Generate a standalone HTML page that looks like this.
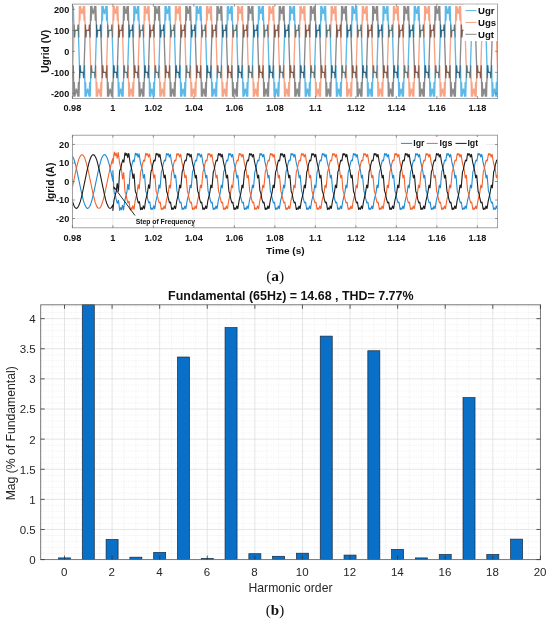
<!DOCTYPE html><html><head><meta charset="utf-8"><style>html,body{margin:0;padding:0;background:#fff;width:550px;height:622px;overflow:hidden}svg{display:block}</style></head><body><svg width="550" height="622" viewBox="0 0 550 622">
<rect width="550" height="622" fill="#fff"/>
<defs><clipPath id="c1"><rect x="72.4" y="4.1" width="425.2" height="94.5"/></clipPath>
<clipPath id="c2"><rect x="72.4" y="135.2" width="425.2" height="92.6"/></clipPath></defs>
<g clip-path="url(#c1)" fill="none" stroke-width="1.35" stroke-linejoin="miter">
<path d="M62.53 78.2L62.42 65.2L62.31 72.3L61.88 72.3L61.77 78.2L61.66 65.2L62.96 24.5L63.46 37.5L63.96 30.3L66.69 30.3L67.19 24.5L67.69 37.5L68.19 6.0L68.69 20.7L69.19 6.0L70.75 14.0L72.31 6.0L72.81 20.7L73.31 6.0L73.81 24.5L74.31 37.5L74.81 30.3L77.53 30.3L78.03 24.5L78.53 37.5L79.83 78.2L80.33 65.2L80.83 72.3L83.56 72.3L84.06 78.2L84.56 65.2L85.06 96.7L85.56 82.0L86.06 96.7L87.62 88.7L89.18 96.7L89.68 82.0L90.18 96.7L90.68 78.2L91.18 65.2L91.68 72.3L94.41 72.3L94.91 78.2L95.41 65.2L96.71 24.5L97.21 37.5L97.71 30.3L100.43 30.3L100.93 24.5L101.43 37.5L101.93 6.0L102.43 20.7L102.93 6.0L104.49 14.0L106.06 6.0L106.56 20.7L107.06 6.0L107.56 24.5L108.06 37.5L108.56 30.3L111.28 30.3L111.78 24.5L112.28 37.5L113.58 78.2L114.08 65.2L114.58 72.3L116.87 72.3L117.37 78.2L117.87 65.2L118.37 96.7L118.87 82.0L119.37 96.7L120.72 88.7L122.06 96.7L122.56 82.0L123.06 96.7L123.56 78.2L124.06 65.2L124.56 72.3L126.85 72.3L127.35 78.2L127.85 65.2L129.15 24.5L129.65 37.5L130.15 30.3L132.44 30.3L132.94 24.5L133.44 37.5L133.94 6.0L134.44 20.7L134.94 6.0L136.29 14.0L137.64 6.0L138.14 20.7L138.64 6.0L139.14 24.5L139.64 37.5L140.14 30.3L142.43 30.3L142.93 24.5L143.43 37.5L144.73 78.2L145.23 65.2L145.73 72.3L148.02 72.3L148.52 78.2L149.02 65.2L149.52 96.7L150.02 82.0L150.52 96.7L151.87 88.7L153.21 96.7L153.71 82.0L154.21 96.7L154.71 78.2L155.21 65.2L155.71 72.3L158.00 72.3L158.50 78.2L159.00 65.2L160.30 24.5L160.80 37.5L161.30 30.3L163.59 30.3L164.09 24.5L164.59 37.5L165.09 6.0L165.59 20.7L166.09 6.0L167.44 14.0L168.79 6.0L169.29 20.7L169.79 6.0L170.29 24.5L170.79 37.5L171.29 30.3L173.58 30.3L174.08 24.5L174.58 37.5L175.88 78.2L176.38 65.2L176.88 72.3L179.17 72.3L179.67 78.2L180.17 65.2L180.67 96.7L181.17 82.0L181.67 96.7L183.02 88.7L184.36 96.7L184.86 82.0L185.36 96.7L185.86 78.2L186.36 65.2L186.86 72.3L189.15 72.3L189.65 78.2L190.15 65.2L191.45 24.5L191.95 37.5L192.45 30.3L194.75 30.3L195.25 24.5L195.75 37.5L196.25 6.0L196.75 20.7L197.25 6.0L198.59 14.0L199.94 6.0L200.44 20.7L200.94 6.0L201.44 24.5L201.94 37.5L202.44 30.3L204.73 30.3L205.23 24.5L205.73 37.5L207.03 78.2L207.53 65.2L208.03 72.3L210.32 72.3L210.82 78.2L211.32 65.2L211.82 96.7L212.32 82.0L212.82 96.7L214.17 88.7L215.51 96.7L216.01 82.0L216.51 96.7L217.01 78.2L217.51 65.2L218.01 72.3L220.30 72.3L220.80 78.2L221.30 65.2L222.60 24.5L223.10 37.5L223.60 30.3L225.90 30.3L226.40 24.5L226.90 37.5L227.40 6.0L227.90 20.7L228.40 6.0L229.74 14.0L231.09 6.0L231.59 20.7L232.09 6.0L232.59 24.5L233.09 37.5L233.59 30.3L235.88 30.3L236.38 24.5L236.88 37.5L238.18 78.2L238.68 65.2L239.18 72.3L241.47 72.3L241.97 78.2L242.47 65.2L242.97 96.7L243.47 82.0L243.97 96.7L245.32 88.7L246.66 96.7L247.16 82.0L247.66 96.7L248.16 78.2L248.66 65.2L249.16 72.3L251.45 72.3L251.95 78.2L252.45 65.2L253.75 24.5L254.25 37.5L254.75 30.3L257.05 30.3L257.55 24.5L258.05 37.5L258.55 6.0L259.05 20.7L259.55 6.0L260.89 14.0L262.24 6.0L262.74 20.7L263.24 6.0L263.74 24.5L264.24 37.5L264.74 30.3L267.03 30.3L267.53 24.5L268.03 37.5L269.33 78.2L269.83 65.2L270.33 72.3L272.62 72.3L273.12 78.2L273.62 65.2L274.12 96.7L274.62 82.0L275.12 96.7L276.47 88.7L277.81 96.7L278.31 82.0L278.81 96.7L279.31 78.2L279.81 65.2L280.31 72.3L282.60 72.3L283.10 78.2L283.60 65.2L284.90 24.5L285.40 37.5L285.90 30.3L288.20 30.3L288.70 24.5L289.20 37.5L289.70 6.0L290.20 20.7L290.70 6.0L292.04 14.0L293.39 6.0L293.89 20.7L294.39 6.0L294.89 24.5L295.39 37.5L295.89 30.3L298.18 30.3L298.68 24.5L299.18 37.5L300.48 78.2L300.98 65.2L301.48 72.3L303.77 72.3L304.27 78.2L304.77 65.2L305.27 96.7L305.77 82.0L306.27 96.7L307.62 88.7L308.96 96.7L309.46 82.0L309.96 96.7L310.46 78.2L310.96 65.2L311.46 72.3L313.75 72.3L314.25 78.2L314.75 65.2L316.05 24.5L316.55 37.5L317.05 30.3L319.35 30.3L319.85 24.5L320.35 37.5L320.85 6.0L321.35 20.7L321.85 6.0L323.19 14.0L324.54 6.0L325.04 20.7L325.54 6.0L326.04 24.5L326.54 37.5L327.04 30.3L329.33 30.3L329.83 24.5L330.33 37.5L331.63 78.2L332.13 65.2L332.63 72.3L334.92 72.3L335.42 78.2L335.92 65.2L336.42 96.7L336.92 82.0L337.42 96.7L338.77 88.7L340.11 96.7L340.61 82.0L341.11 96.7L341.61 78.2L342.11 65.2L342.61 72.3L344.90 72.3L345.40 78.2L345.90 65.2L347.20 24.5L347.70 37.5L348.20 30.3L350.50 30.3L351.00 24.5L351.50 37.5L352.00 6.0L352.50 20.7L353.00 6.0L354.34 14.0L355.69 6.0L356.19 20.7L356.69 6.0L357.19 24.5L357.69 37.5L358.19 30.3L360.48 30.3L360.98 24.5L361.48 37.5L362.78 78.2L363.28 65.2L363.78 72.3L366.07 72.3L366.57 78.2L367.07 65.2L367.57 96.7L368.07 82.0L368.57 96.7L369.92 88.7L371.26 96.7L371.76 82.0L372.26 96.7L372.76 78.2L373.26 65.2L373.76 72.3L376.05 72.3L376.55 78.2L377.05 65.2L378.35 24.5L378.85 37.5L379.35 30.3L381.65 30.3L382.15 24.5L382.65 37.5L383.15 6.0L383.65 20.7L384.15 6.0L385.49 14.0L386.84 6.0L387.34 20.7L387.84 6.0L388.34 24.5L388.84 37.5L389.34 30.3L391.63 30.3L392.13 24.5L392.63 37.5L393.93 78.2L394.43 65.2L394.93 72.3L397.22 72.3L397.72 78.2L398.22 65.2L398.72 96.7L399.22 82.0L399.72 96.7L401.07 88.7L402.41 96.7L402.91 82.0L403.41 96.7L403.91 78.2L404.41 65.2L404.91 72.3L407.20 72.3L407.70 78.2L408.20 65.2L409.50 24.5L410.00 37.5L410.50 30.3L412.80 30.3L413.30 24.5L413.80 37.5L414.30 6.0L414.80 20.7L415.30 6.0L416.64 14.0L417.99 6.0L418.49 20.7L418.99 6.0L419.49 24.5L419.99 37.5L420.49 30.3L422.78 30.3L423.28 24.5L423.78 37.5L425.08 78.2L425.58 65.2L426.08 72.3L428.37 72.3L428.87 78.2L429.37 65.2L429.87 96.7L430.37 82.0L430.87 96.7L432.22 88.7L433.56 96.7L434.06 82.0L434.56 96.7L435.06 78.2L435.56 65.2L436.06 72.3L438.35 72.3L438.85 78.2L439.35 65.2L440.65 24.5L441.15 37.5L441.65 30.3L443.95 30.3L444.45 24.5L444.95 37.5L445.45 6.0L445.95 20.7L446.45 6.0L447.79 14.0L449.14 6.0L449.64 20.7L450.14 6.0L450.64 24.5L451.14 37.5L451.64 30.3L453.93 30.3L454.43 24.5L454.93 37.5L456.23 78.2L456.73 65.2L457.23 72.3L459.52 72.3L460.02 78.2L460.52 65.2L461.02 96.7L461.52 82.0L462.02 96.7L463.37 88.7L464.71 96.7L465.21 82.0L465.71 96.7L466.21 78.2L466.71 65.2L467.21 72.3L469.50 72.3L470.00 78.2L470.50 65.2L471.80 24.5L472.30 37.5L472.80 30.3L475.10 30.3L475.60 24.5L476.10 37.5L476.60 6.0L477.10 20.7L477.60 6.0L478.94 14.0L480.29 6.0L480.79 20.7L481.29 6.0L481.79 24.5L482.29 37.5L482.79 30.3L485.08 30.3L485.58 24.5L486.08 37.5L487.38 78.2L487.88 65.2L488.38 72.3L490.67 72.3L491.17 78.2L491.67 65.2L492.17 96.7L492.67 82.0L493.17 96.7L494.52 88.7L495.86 96.7L496.36 82.0L496.86 96.7L497.36 78.2L497.86 65.2L498.36 72.3L500.65 72.3L501.15 78.2L501.65 65.2L502.95 24.5L503.45 37.5L503.95 30.3L506.25 30.3L506.75 24.5L507.25 37.5L507.75 6.0L507.71 20.7L507.68 6.0L507.61 14.0L507.54 6.0L507.51 20.7L507.47 6.0" stroke="#5cb8e6" style="mix-blend-mode:multiply"/>
<path d="M62.93 78.2L62.82 65.2L62.71 72.3L62.28 72.3L62.17 78.2L62.06 65.2L62.56 96.7L63.06 82.0L63.56 96.7L65.12 88.7L66.69 96.7L67.19 82.0L67.69 96.7L68.19 78.2L68.69 65.2L69.19 72.3L71.91 72.3L72.41 78.2L72.91 65.2L74.21 24.5L74.71 37.5L75.21 30.3L77.93 30.3L78.43 24.5L78.93 37.5L79.43 6.0L79.93 20.7L80.43 6.0L82.00 14.0L83.56 6.0L84.06 20.7L84.56 6.0L85.06 24.5L85.56 37.5L86.06 30.3L88.78 30.3L89.28 24.5L89.78 37.5L91.08 78.2L91.58 65.2L92.08 72.3L94.81 72.3L95.31 78.2L95.81 65.2L96.31 96.7L96.81 82.0L97.31 96.7L98.87 88.7L100.43 96.7L100.93 82.0L101.43 96.7L101.93 78.2L102.43 65.2L102.93 72.3L105.66 72.3L106.16 78.2L106.66 65.2L107.96 24.5L108.46 37.5L108.96 30.3L111.68 30.3L112.18 24.5L112.68 37.5L113.18 6.0L113.68 20.7L114.18 6.0L115.52 14.0L116.87 6.0L117.37 20.7L117.87 6.0L118.37 24.5L118.87 37.5L119.37 30.3L121.66 30.3L122.16 24.5L122.66 37.5L123.96 78.2L124.46 65.2L124.96 72.3L127.25 72.3L127.75 78.2L128.25 65.2L128.75 96.7L129.25 82.0L129.75 96.7L131.10 88.7L132.44 96.7L132.94 82.0L133.44 96.7L133.94 78.2L134.44 65.2L134.94 72.3L137.24 72.3L137.74 78.2L138.24 65.2L139.54 24.5L140.04 37.5L140.54 30.3L142.83 30.3L143.33 24.5L143.83 37.5L144.33 6.0L144.83 20.7L145.33 6.0L146.67 14.0L148.02 6.0L148.52 20.7L149.02 6.0L149.52 24.5L150.02 37.5L150.52 30.3L152.81 30.3L153.31 24.5L153.81 37.5L155.11 78.2L155.61 65.2L156.11 72.3L158.40 72.3L158.90 78.2L159.40 65.2L159.90 96.7L160.40 82.0L160.90 96.7L162.25 88.7L163.59 96.7L164.09 82.0L164.59 96.7L165.09 78.2L165.59 65.2L166.09 72.3L168.39 72.3L168.89 78.2L169.39 65.2L170.69 24.5L171.19 37.5L171.69 30.3L173.98 30.3L174.48 24.5L174.98 37.5L175.48 6.0L175.98 20.7L176.48 6.0L177.82 14.0L179.17 6.0L179.67 20.7L180.17 6.0L180.67 24.5L181.17 37.5L181.67 30.3L183.96 30.3L184.46 24.5L184.96 37.5L186.26 78.2L186.76 65.2L187.26 72.3L189.55 72.3L190.05 78.2L190.55 65.2L191.05 96.7L191.55 82.0L192.05 96.7L193.40 88.7L194.75 96.7L195.25 82.0L195.75 96.7L196.25 78.2L196.75 65.2L197.25 72.3L199.54 72.3L200.04 78.2L200.54 65.2L201.84 24.5L202.34 37.5L202.84 30.3L205.13 30.3L205.63 24.5L206.13 37.5L206.63 6.0L207.13 20.7L207.63 6.0L208.97 14.0L210.32 6.0L210.82 20.7L211.32 6.0L211.82 24.5L212.32 37.5L212.82 30.3L215.11 30.3L215.61 24.5L216.11 37.5L217.41 78.2L217.91 65.2L218.41 72.3L220.70 72.3L221.20 78.2L221.70 65.2L222.20 96.7L222.70 82.0L223.20 96.7L224.55 88.7L225.90 96.7L226.40 82.0L226.90 96.7L227.40 78.2L227.90 65.2L228.40 72.3L230.69 72.3L231.19 78.2L231.69 65.2L232.99 24.5L233.49 37.5L233.99 30.3L236.28 30.3L236.78 24.5L237.28 37.5L237.78 6.0L238.28 20.7L238.78 6.0L240.12 14.0L241.47 6.0L241.97 20.7L242.47 6.0L242.97 24.5L243.47 37.5L243.97 30.3L246.26 30.3L246.76 24.5L247.26 37.5L248.56 78.2L249.06 65.2L249.56 72.3L251.85 72.3L252.35 78.2L252.85 65.2L253.35 96.7L253.85 82.0L254.35 96.7L255.70 88.7L257.05 96.7L257.55 82.0L258.05 96.7L258.55 78.2L259.05 65.2L259.55 72.3L261.84 72.3L262.34 78.2L262.84 65.2L264.14 24.5L264.64 37.5L265.14 30.3L267.43 30.3L267.93 24.5L268.43 37.5L268.93 6.0L269.43 20.7L269.93 6.0L271.27 14.0L272.62 6.0L273.12 20.7L273.62 6.0L274.12 24.5L274.62 37.5L275.12 30.3L277.41 30.3L277.91 24.5L278.41 37.5L279.71 78.2L280.21 65.2L280.71 72.3L283.00 72.3L283.50 78.2L284.00 65.2L284.50 96.7L285.00 82.0L285.50 96.7L286.85 88.7L288.20 96.7L288.70 82.0L289.20 96.7L289.70 78.2L290.20 65.2L290.70 72.3L292.99 72.3L293.49 78.2L293.99 65.2L295.29 24.5L295.79 37.5L296.29 30.3L298.58 30.3L299.08 24.5L299.58 37.5L300.08 6.0L300.58 20.7L301.08 6.0L302.42 14.0L303.77 6.0L304.27 20.7L304.77 6.0L305.27 24.5L305.77 37.5L306.27 30.3L308.56 30.3L309.06 24.5L309.56 37.5L310.86 78.2L311.36 65.2L311.86 72.3L314.15 72.3L314.65 78.2L315.15 65.2L315.65 96.7L316.15 82.0L316.65 96.7L318.00 88.7L319.35 96.7L319.85 82.0L320.35 96.7L320.85 78.2L321.35 65.2L321.85 72.3L324.14 72.3L324.64 78.2L325.14 65.2L326.44 24.5L326.94 37.5L327.44 30.3L329.73 30.3L330.23 24.5L330.73 37.5L331.23 6.0L331.73 20.7L332.23 6.0L333.57 14.0L334.92 6.0L335.42 20.7L335.92 6.0L336.42 24.5L336.92 37.5L337.42 30.3L339.71 30.3L340.21 24.5L340.71 37.5L342.01 78.2L342.51 65.2L343.01 72.3L345.30 72.3L345.80 78.2L346.30 65.2L346.80 96.7L347.30 82.0L347.80 96.7L349.15 88.7L350.50 96.7L351.00 82.0L351.50 96.7L352.00 78.2L352.50 65.2L353.00 72.3L355.29 72.3L355.79 78.2L356.29 65.2L357.59 24.5L358.09 37.5L358.59 30.3L360.88 30.3L361.38 24.5L361.88 37.5L362.38 6.0L362.88 20.7L363.38 6.0L364.73 14.0L366.07 6.0L366.57 20.7L367.07 6.0L367.57 24.5L368.07 37.5L368.57 30.3L370.86 30.3L371.36 24.5L371.86 37.5L373.16 78.2L373.66 65.2L374.16 72.3L376.45 72.3L376.95 78.2L377.45 65.2L377.95 96.7L378.45 82.0L378.95 96.7L380.30 88.7L381.65 96.7L382.15 82.0L382.65 96.7L383.15 78.2L383.65 65.2L384.15 72.3L386.44 72.3L386.94 78.2L387.44 65.2L388.74 24.5L389.24 37.5L389.74 30.3L392.03 30.3L392.53 24.5L393.03 37.5L393.53 6.0L394.03 20.7L394.53 6.0L395.88 14.0L397.22 6.0L397.72 20.7L398.22 6.0L398.72 24.5L399.22 37.5L399.72 30.3L402.01 30.3L402.51 24.5L403.01 37.5L404.31 78.2L404.81 65.2L405.31 72.3L407.60 72.3L408.10 78.2L408.60 65.2L409.10 96.7L409.60 82.0L410.10 96.7L411.45 88.7L412.80 96.7L413.30 82.0L413.80 96.7L414.30 78.2L414.80 65.2L415.30 72.3L417.59 72.3L418.09 78.2L418.59 65.2L419.89 24.5L420.39 37.5L420.89 30.3L423.18 30.3L423.68 24.5L424.18 37.5L424.68 6.0L425.18 20.7L425.68 6.0L427.03 14.0L428.37 6.0L428.87 20.7L429.37 6.0L429.87 24.5L430.37 37.5L430.87 30.3L433.16 30.3L433.66 24.5L434.16 37.5L435.46 78.2L435.96 65.2L436.46 72.3L438.75 72.3L439.25 78.2L439.75 65.2L440.25 96.7L440.75 82.0L441.25 96.7L442.60 88.7L443.95 96.7L444.45 82.0L444.95 96.7L445.45 78.2L445.95 65.2L446.45 72.3L448.74 72.3L449.24 78.2L449.74 65.2L451.04 24.5L451.54 37.5L452.04 30.3L454.33 30.3L454.83 24.5L455.33 37.5L455.83 6.0L456.33 20.7L456.83 6.0L458.18 14.0L459.52 6.0L460.02 20.7L460.52 6.0L461.02 24.5L461.52 37.5L462.02 30.3L464.31 30.3L464.81 24.5L465.31 37.5L466.61 78.2L467.11 65.2L467.61 72.3L469.90 72.3L470.40 78.2L470.90 65.2L471.40 96.7L471.90 82.0L472.40 96.7L473.75 88.7L475.10 96.7L475.60 82.0L476.10 96.7L476.60 78.2L477.10 65.2L477.60 72.3L479.89 72.3L480.39 78.2L480.89 65.2L482.19 24.5L482.69 37.5L483.19 30.3L485.48 30.3L485.98 24.5L486.48 37.5L486.98 6.0L487.48 20.7L487.98 6.0L489.33 14.0L490.67 6.0L491.17 20.7L491.67 6.0L492.17 24.5L492.67 37.5L493.17 30.3L495.46 30.3L495.96 24.5L496.46 37.5L497.76 78.2L498.26 65.2L498.76 72.3L501.05 72.3L501.55 78.2L502.05 65.2L502.55 96.7L503.05 82.0L503.55 96.7L504.90 88.7L506.25 96.7L506.75 82.0L507.25 96.7L507.75 78.2L507.66 65.2L507.58 72.3L507.24 72.3L507.16 78.2L507.07 65.2" stroke="#f7a386" style="mix-blend-mode:multiply"/>
<path d="M62.53 6.0L62.47 20.7L62.41 6.0L62.29 14.0L62.18 6.0L62.12 20.7L62.06 6.0L62.56 24.5L63.06 37.5L63.56 30.3L66.29 30.3L66.79 24.5L67.29 37.5L68.59 78.2L69.09 65.2L69.59 72.3L72.31 72.3L72.81 78.2L73.31 65.2L73.81 96.7L74.31 82.0L74.81 96.7L76.37 88.7L77.93 96.7L78.43 82.0L78.93 96.7L79.43 78.2L79.93 65.2L80.43 72.3L83.16 72.3L83.66 78.2L84.16 65.2L85.46 24.5L85.96 37.5L86.46 30.3L89.18 30.3L89.68 24.5L90.18 37.5L90.68 6.0L91.18 20.7L91.68 6.0L93.24 14.0L94.81 6.0L95.31 20.7L95.81 6.0L96.31 24.5L96.81 37.5L97.31 30.3L100.03 30.3L100.53 24.5L101.03 37.5L102.33 78.2L102.83 65.2L103.33 72.3L106.06 72.3L106.56 78.2L107.06 65.2L107.56 96.7L108.06 82.0L108.56 96.7L110.12 88.7L111.68 96.7L112.18 82.0L112.68 96.7L113.18 78.2L113.68 65.2L114.18 72.3L116.47 72.3L116.97 78.2L117.47 65.2L118.77 24.5L119.27 37.5L119.77 30.3L122.06 30.3L122.56 24.5L123.06 37.5L123.56 6.0L124.06 20.7L124.56 6.0L125.91 14.0L127.25 6.0L127.75 20.7L128.25 6.0L128.75 24.5L129.25 37.5L129.75 30.3L132.04 30.3L132.54 24.5L133.04 37.5L134.34 78.2L134.84 65.2L135.34 72.3L137.64 72.3L138.14 78.2L138.64 65.2L139.14 96.7L139.64 82.0L140.14 96.7L141.48 88.7L142.83 96.7L143.33 82.0L143.83 96.7L144.33 78.2L144.83 65.2L145.33 72.3L147.62 72.3L148.12 78.2L148.62 65.2L149.92 24.5L150.42 37.5L150.92 30.3L153.21 30.3L153.71 24.5L154.21 37.5L154.71 6.0L155.21 20.7L155.71 6.0L157.06 14.0L158.40 6.0L158.90 20.7L159.40 6.0L159.90 24.5L160.40 37.5L160.90 30.3L163.19 30.3L163.69 24.5L164.19 37.5L165.49 78.2L165.99 65.2L166.49 72.3L168.79 72.3L169.29 78.2L169.79 65.2L170.29 96.7L170.79 82.0L171.29 96.7L172.63 88.7L173.98 96.7L174.48 82.0L174.98 96.7L175.48 78.2L175.98 65.2L176.48 72.3L178.77 72.3L179.27 78.2L179.77 65.2L181.07 24.5L181.57 37.5L182.07 30.3L184.36 30.3L184.86 24.5L185.36 37.5L185.86 6.0L186.36 20.7L186.86 6.0L188.21 14.0L189.55 6.0L190.05 20.7L190.55 6.0L191.05 24.5L191.55 37.5L192.05 30.3L194.35 30.3L194.85 24.5L195.35 37.5L196.65 78.2L197.15 65.2L197.65 72.3L199.94 72.3L200.44 78.2L200.94 65.2L201.44 96.7L201.94 82.0L202.44 96.7L203.78 88.7L205.13 96.7L205.63 82.0L206.13 96.7L206.63 78.2L207.13 65.2L207.63 72.3L209.92 72.3L210.42 78.2L210.92 65.2L212.22 24.5L212.72 37.5L213.22 30.3L215.51 30.3L216.01 24.5L216.51 37.5L217.01 6.0L217.51 20.7L218.01 6.0L219.36 14.0L220.70 6.0L221.20 20.7L221.70 6.0L222.20 24.5L222.70 37.5L223.20 30.3L225.50 30.3L226.00 24.5L226.50 37.5L227.80 78.2L228.30 65.2L228.80 72.3L231.09 72.3L231.59 78.2L232.09 65.2L232.59 96.7L233.09 82.0L233.59 96.7L234.93 88.7L236.28 96.7L236.78 82.0L237.28 96.7L237.78 78.2L238.28 65.2L238.78 72.3L241.07 72.3L241.57 78.2L242.07 65.2L243.37 24.5L243.87 37.5L244.37 30.3L246.66 30.3L247.16 24.5L247.66 37.5L248.16 6.0L248.66 20.7L249.16 6.0L250.51 14.0L251.85 6.0L252.35 20.7L252.85 6.0L253.35 24.5L253.85 37.5L254.35 30.3L256.65 30.3L257.15 24.5L257.65 37.5L258.95 78.2L259.45 65.2L259.95 72.3L262.24 72.3L262.74 78.2L263.24 65.2L263.74 96.7L264.24 82.0L264.74 96.7L266.08 88.7L267.43 96.7L267.93 82.0L268.43 96.7L268.93 78.2L269.43 65.2L269.93 72.3L272.22 72.3L272.72 78.2L273.22 65.2L274.52 24.5L275.02 37.5L275.52 30.3L277.81 30.3L278.31 24.5L278.81 37.5L279.31 6.0L279.81 20.7L280.31 6.0L281.66 14.0L283.00 6.0L283.50 20.7L284.00 6.0L284.50 24.5L285.00 37.5L285.50 30.3L287.80 30.3L288.30 24.5L288.80 37.5L290.10 78.2L290.60 65.2L291.10 72.3L293.39 72.3L293.89 78.2L294.39 65.2L294.89 96.7L295.39 82.0L295.89 96.7L297.23 88.7L298.58 96.7L299.08 82.0L299.58 96.7L300.08 78.2L300.58 65.2L301.08 72.3L303.37 72.3L303.87 78.2L304.37 65.2L305.67 24.5L306.17 37.5L306.67 30.3L308.96 30.3L309.46 24.5L309.96 37.5L310.46 6.0L310.96 20.7L311.46 6.0L312.81 14.0L314.15 6.0L314.65 20.7L315.15 6.0L315.65 24.5L316.15 37.5L316.65 30.3L318.95 30.3L319.45 24.5L319.95 37.5L321.25 78.2L321.75 65.2L322.25 72.3L324.54 72.3L325.04 78.2L325.54 65.2L326.04 96.7L326.54 82.0L327.04 96.7L328.38 88.7L329.73 96.7L330.23 82.0L330.73 96.7L331.23 78.2L331.73 65.2L332.23 72.3L334.52 72.3L335.02 78.2L335.52 65.2L336.82 24.5L337.32 37.5L337.82 30.3L340.11 30.3L340.61 24.5L341.11 37.5L341.61 6.0L342.11 20.7L342.61 6.0L343.96 14.0L345.30 6.0L345.80 20.7L346.30 6.0L346.80 24.5L347.30 37.5L347.80 30.3L350.10 30.3L350.60 24.5L351.10 37.5L352.40 78.2L352.90 65.2L353.40 72.3L355.69 72.3L356.19 78.2L356.69 65.2L357.19 96.7L357.69 82.0L358.19 96.7L359.53 88.7L360.88 96.7L361.38 82.0L361.88 96.7L362.38 78.2L362.88 65.2L363.38 72.3L365.67 72.3L366.17 78.2L366.67 65.2L367.97 24.5L368.47 37.5L368.97 30.3L371.26 30.3L371.76 24.5L372.26 37.5L372.76 6.0L373.26 20.7L373.76 6.0L375.11 14.0L376.45 6.0L376.95 20.7L377.45 6.0L377.95 24.5L378.45 37.5L378.95 30.3L381.25 30.3L381.75 24.5L382.25 37.5L383.55 78.2L384.05 65.2L384.55 72.3L386.84 72.3L387.34 78.2L387.84 65.2L388.34 96.7L388.84 82.0L389.34 96.7L390.68 88.7L392.03 96.7L392.53 82.0L393.03 96.7L393.53 78.2L394.03 65.2L394.53 72.3L396.82 72.3L397.32 78.2L397.82 65.2L399.12 24.5L399.62 37.5L400.12 30.3L402.41 30.3L402.91 24.5L403.41 37.5L403.91 6.0L404.41 20.7L404.91 6.0L406.26 14.0L407.60 6.0L408.10 20.7L408.60 6.0L409.10 24.5L409.60 37.5L410.10 30.3L412.40 30.3L412.90 24.5L413.40 37.5L414.70 78.2L415.20 65.2L415.70 72.3L417.99 72.3L418.49 78.2L418.99 65.2L419.49 96.7L419.99 82.0L420.49 96.7L421.83 88.7L423.18 96.7L423.68 82.0L424.18 96.7L424.68 78.2L425.18 65.2L425.68 72.3L427.97 72.3L428.47 78.2L428.97 65.2L430.27 24.5L430.77 37.5L431.27 30.3L433.56 30.3L434.06 24.5L434.56 37.5L435.06 6.0L435.56 20.7L436.06 6.0L437.41 14.0L438.75 6.0L439.25 20.7L439.75 6.0L440.25 24.5L440.75 37.5L441.25 30.3L443.55 30.3L444.05 24.5L444.55 37.5L445.85 78.2L446.35 65.2L446.85 72.3L449.14 72.3L449.64 78.2L450.14 65.2L450.64 96.7L451.14 82.0L451.64 96.7L452.98 88.7L454.33 96.7L454.83 82.0L455.33 96.7L455.83 78.2L456.33 65.2L456.83 72.3L459.12 72.3L459.62 78.2L460.12 65.2L461.42 24.5L461.92 37.5L462.42 30.3L464.71 30.3L465.21 24.5L465.71 37.5L466.21 6.0L466.71 20.7L467.21 6.0L468.56 14.0L469.90 6.0L470.40 20.7L470.90 6.0L471.40 24.5L471.90 37.5L472.40 30.3L474.70 30.3L475.20 24.5L475.70 37.5L477.00 78.2L477.50 65.2L478.00 72.3L480.29 72.3L480.79 78.2L481.29 65.2L481.79 96.7L482.29 82.0L482.79 96.7L484.13 88.7L485.48 96.7L485.98 82.0L486.48 96.7L486.98 78.2L487.48 65.2L487.98 72.3L490.27 72.3L490.77 78.2L491.27 65.2L492.57 24.5L493.07 37.5L493.57 30.3L495.86 30.3L496.36 24.5L496.86 37.5L497.36 6.0L497.86 20.7L498.36 6.0L499.71 14.0L501.05 6.0L501.55 20.7L502.05 6.0L502.55 24.5L503.05 37.5L503.55 30.3L505.85 30.3L506.35 24.5L506.85 37.5L508.15 78.2L508.06 65.2L507.98 72.3L507.64 72.3L507.56 78.2L507.47 65.2" stroke="#8a8a8a" style="mix-blend-mode:multiply"/>
</g>
<rect x="72.40" y="4.10" width="425.20" height="94.50" fill="none" stroke="#8c8c8c" stroke-width="0.8"/>
<line x1="72.40" y1="98.60" x2="72.40" y2="96.10" stroke="#666" stroke-width="0.7"/>
<line x1="72.40" y1="4.10" x2="72.40" y2="6.60" stroke="#666" stroke-width="0.7"/>
<text transform="translate(72.40,110.60) scale(1.030,1)" text-anchor="middle" font-family='"Liberation Sans", Arial, sans-serif' font-size="8.9" font-weight="bold" fill="#111">0.98</text>
<line x1="112.90" y1="98.60" x2="112.90" y2="96.10" stroke="#666" stroke-width="0.7"/>
<line x1="112.90" y1="4.10" x2="112.90" y2="6.60" stroke="#666" stroke-width="0.7"/>
<text transform="translate(112.90,110.60) scale(1.030,1)" text-anchor="middle" font-family='"Liberation Sans", Arial, sans-serif' font-size="8.9" font-weight="bold" fill="#111">1</text>
<line x1="153.39" y1="98.60" x2="153.39" y2="96.10" stroke="#666" stroke-width="0.7"/>
<line x1="153.39" y1="4.10" x2="153.39" y2="6.60" stroke="#666" stroke-width="0.7"/>
<text transform="translate(153.39,110.60) scale(1.030,1)" text-anchor="middle" font-family='"Liberation Sans", Arial, sans-serif' font-size="8.9" font-weight="bold" fill="#111">1.02</text>
<line x1="193.89" y1="98.60" x2="193.89" y2="96.10" stroke="#666" stroke-width="0.7"/>
<line x1="193.89" y1="4.10" x2="193.89" y2="6.60" stroke="#666" stroke-width="0.7"/>
<text transform="translate(193.89,110.60) scale(1.030,1)" text-anchor="middle" font-family='"Liberation Sans", Arial, sans-serif' font-size="8.9" font-weight="bold" fill="#111">1.04</text>
<line x1="234.38" y1="98.60" x2="234.38" y2="96.10" stroke="#666" stroke-width="0.7"/>
<line x1="234.38" y1="4.10" x2="234.38" y2="6.60" stroke="#666" stroke-width="0.7"/>
<text transform="translate(234.38,110.60) scale(1.030,1)" text-anchor="middle" font-family='"Liberation Sans", Arial, sans-serif' font-size="8.9" font-weight="bold" fill="#111">1.06</text>
<line x1="274.88" y1="98.60" x2="274.88" y2="96.10" stroke="#666" stroke-width="0.7"/>
<line x1="274.88" y1="4.10" x2="274.88" y2="6.60" stroke="#666" stroke-width="0.7"/>
<text transform="translate(274.88,110.60) scale(1.030,1)" text-anchor="middle" font-family='"Liberation Sans", Arial, sans-serif' font-size="8.9" font-weight="bold" fill="#111">1.08</text>
<line x1="315.37" y1="98.60" x2="315.37" y2="96.10" stroke="#666" stroke-width="0.7"/>
<line x1="315.37" y1="4.10" x2="315.37" y2="6.60" stroke="#666" stroke-width="0.7"/>
<text transform="translate(315.37,110.60) scale(1.030,1)" text-anchor="middle" font-family='"Liberation Sans", Arial, sans-serif' font-size="8.9" font-weight="bold" fill="#111">1.1</text>
<line x1="355.87" y1="98.60" x2="355.87" y2="96.10" stroke="#666" stroke-width="0.7"/>
<line x1="355.87" y1="4.10" x2="355.87" y2="6.60" stroke="#666" stroke-width="0.7"/>
<text transform="translate(355.87,110.60) scale(1.030,1)" text-anchor="middle" font-family='"Liberation Sans", Arial, sans-serif' font-size="8.9" font-weight="bold" fill="#111">1.12</text>
<line x1="396.36" y1="98.60" x2="396.36" y2="96.10" stroke="#666" stroke-width="0.7"/>
<line x1="396.36" y1="4.10" x2="396.36" y2="6.60" stroke="#666" stroke-width="0.7"/>
<text transform="translate(396.36,110.60) scale(1.030,1)" text-anchor="middle" font-family='"Liberation Sans", Arial, sans-serif' font-size="8.9" font-weight="bold" fill="#111">1.14</text>
<line x1="436.86" y1="98.60" x2="436.86" y2="96.10" stroke="#666" stroke-width="0.7"/>
<line x1="436.86" y1="4.10" x2="436.86" y2="6.60" stroke="#666" stroke-width="0.7"/>
<text transform="translate(436.86,110.60) scale(1.030,1)" text-anchor="middle" font-family='"Liberation Sans", Arial, sans-serif' font-size="8.9" font-weight="bold" fill="#111">1.16</text>
<line x1="477.35" y1="98.60" x2="477.35" y2="96.10" stroke="#666" stroke-width="0.7"/>
<line x1="477.35" y1="4.10" x2="477.35" y2="6.60" stroke="#666" stroke-width="0.7"/>
<text transform="translate(477.35,110.60) scale(1.030,1)" text-anchor="middle" font-family='"Liberation Sans", Arial, sans-serif' font-size="8.9" font-weight="bold" fill="#111">1.18</text>
<line x1="72.40" y1="93.35" x2="74.90" y2="93.35" stroke="#666" stroke-width="0.7"/>
<line x1="497.60" y1="93.35" x2="495.10" y2="93.35" stroke="#666" stroke-width="0.7"/>
<text transform="translate(69.30,96.55) scale(1.030,1)" text-anchor="end" font-family='"Liberation Sans", Arial, sans-serif' font-size="8.9" font-weight="bold" fill="#111">-200</text>
<line x1="72.40" y1="72.35" x2="74.90" y2="72.35" stroke="#666" stroke-width="0.7"/>
<line x1="497.60" y1="72.35" x2="495.10" y2="72.35" stroke="#666" stroke-width="0.7"/>
<text transform="translate(69.30,75.55) scale(1.030,1)" text-anchor="end" font-family='"Liberation Sans", Arial, sans-serif' font-size="8.9" font-weight="bold" fill="#111">-100</text>
<line x1="72.40" y1="51.35" x2="74.90" y2="51.35" stroke="#666" stroke-width="0.7"/>
<line x1="497.60" y1="51.35" x2="495.10" y2="51.35" stroke="#666" stroke-width="0.7"/>
<text transform="translate(69.30,54.55) scale(1.030,1)" text-anchor="end" font-family='"Liberation Sans", Arial, sans-serif' font-size="8.9" font-weight="bold" fill="#111">0</text>
<line x1="72.40" y1="30.35" x2="74.90" y2="30.35" stroke="#666" stroke-width="0.7"/>
<line x1="497.60" y1="30.35" x2="495.10" y2="30.35" stroke="#666" stroke-width="0.7"/>
<text transform="translate(69.30,33.55) scale(1.030,1)" text-anchor="end" font-family='"Liberation Sans", Arial, sans-serif' font-size="8.9" font-weight="bold" fill="#111">100</text>
<line x1="72.40" y1="9.35" x2="74.90" y2="9.35" stroke="#666" stroke-width="0.7"/>
<line x1="497.60" y1="9.35" x2="495.10" y2="9.35" stroke="#666" stroke-width="0.7"/>
<text transform="translate(69.30,12.55) scale(1.030,1)" text-anchor="end" font-family='"Liberation Sans", Arial, sans-serif' font-size="8.9" font-weight="bold" fill="#111">200</text>
<rect x="463.5" y="4.6" width="33.6" height="36.5" fill="#fff"/>
<line x1="465.40" y1="10.60" x2="476.60" y2="10.60" stroke="#5cb8e6" stroke-width="1"/>
<text transform="translate(478.00,14.30)" text-anchor="start" font-family='"Liberation Sans", Arial, sans-serif' font-size="9.6" font-weight="bold" fill="#111">Ugr</text>
<line x1="465.40" y1="22.45" x2="476.60" y2="22.45" stroke="#f7a386" stroke-width="1"/>
<text transform="translate(478.00,26.15)" text-anchor="start" font-family='"Liberation Sans", Arial, sans-serif' font-size="9.6" font-weight="bold" fill="#111">Ugs</text>
<line x1="465.40" y1="34.30" x2="476.60" y2="34.30" stroke="#8a8a8a" stroke-width="1"/>
<text transform="translate(478.00,38.00)" text-anchor="start" font-family='"Liberation Sans", Arial, sans-serif' font-size="9.6" font-weight="bold" fill="#111">Ugt</text>
<text transform="translate(48.60,51.30) rotate(-90)" text-anchor="middle" font-family='"Liberation Sans", Arial, sans-serif' font-size="10.2" font-weight="bold" fill="#111">Ugrid (V)</text>
<line x1="72.40" y1="135.20" x2="72.40" y2="227.80" stroke="#e6e6e6" stroke-width="0.8"/>
<line x1="112.90" y1="135.20" x2="112.90" y2="227.80" stroke="#e6e6e6" stroke-width="0.8"/>
<line x1="153.39" y1="135.20" x2="153.39" y2="227.80" stroke="#e6e6e6" stroke-width="0.8"/>
<line x1="193.89" y1="135.20" x2="193.89" y2="227.80" stroke="#e6e6e6" stroke-width="0.8"/>
<line x1="234.38" y1="135.20" x2="234.38" y2="227.80" stroke="#e6e6e6" stroke-width="0.8"/>
<line x1="274.88" y1="135.20" x2="274.88" y2="227.80" stroke="#e6e6e6" stroke-width="0.8"/>
<line x1="315.37" y1="135.20" x2="315.37" y2="227.80" stroke="#e6e6e6" stroke-width="0.8"/>
<line x1="355.87" y1="135.20" x2="355.87" y2="227.80" stroke="#e6e6e6" stroke-width="0.8"/>
<line x1="396.36" y1="135.20" x2="396.36" y2="227.80" stroke="#e6e6e6" stroke-width="0.8"/>
<line x1="436.86" y1="135.20" x2="436.86" y2="227.80" stroke="#e6e6e6" stroke-width="0.8"/>
<line x1="477.35" y1="135.20" x2="477.35" y2="227.80" stroke="#e6e6e6" stroke-width="0.8"/>
<line x1="72.40" y1="218.54" x2="497.60" y2="218.54" stroke="#e6e6e6" stroke-width="0.8"/>
<line x1="72.40" y1="144.46" x2="497.60" y2="144.46" stroke="#e6e6e6" stroke-width="0.8"/>
<g clip-path="url(#c2)" fill="none" stroke-width="1.1" stroke-linejoin="round">
<path d="M72.4 155.9L74.0 159.5L75.8 165.7L81.5 192.6L83.5 200.9L84.6 204.2L85.7 206.6L86.6 207.9L87.6 208.4L88.7 207.8L89.8 206.2L90.8 203.7L92.0 200.0L94.0 191.4L98.7 168.8L101.1 159.8L102.3 156.8L103.4 155.2L104.0 154.8L104.6 154.6L105.1 154.8L105.7 155.3L107.2 158.0L108.8 162.9L110.5 169.9L112.9 181.2L112.9 170.6L113.9 189.5L114.3 193.3L114.5 193.8L114.9 193.4L115.2 193.8L116.1 199.1L117.3 203.1L117.5 203.2L117.6 203.1L118.3 200.6L118.4 200.3L118.5 200.4L119.5 208.8L119.8 210.4L120.7 207.6L121.0 207.9L121.4 209.6L121.7 209.5L122.5 205.2L122.8 205.9L123.4 209.6L123.5 209.9L123.6 209.8L124.7 201.0L126.8 192.5L127.8 184.5L127.9 184.4L128.0 184.7L128.7 189.4L128.8 189.7L129.0 189.2L130.2 171.1L130.4 170.4L130.9 170.1L131.1 169.5L132.0 164.3L133.1 160.3L133.3 160.0L133.4 160.1L134.0 161.5L134.1 161.6L134.3 161.3L135.1 154.5L135.5 153.2L136.3 155.2L136.5 155.1L137.0 153.7L137.2 153.6L138.1 157.3L138.4 156.8L139.0 154.1L139.1 153.9L139.2 154.1L140.3 161.9L142.4 170.5L143.3 177.7L143.4 178.1L143.6 177.9L144.3 174.6L144.4 174.5L144.6 175.1L145.8 191.5L146.7 193.5L147.6 198.6L148.7 202.6L148.9 202.9L149.6 201.9L149.9 202.2L150.7 208.5L151.1 209.6L151.9 207.9L152.6 209.3L152.8 209.3L153.7 205.9L154.0 206.4L154.5 208.7L154.7 208.8L154.8 208.5L155.9 201.1L158.0 192.4L158.9 185.4L159.0 185.0L159.2 185.1L159.8 187.9L159.9 188.1L160.1 187.7L161.4 171.6L162.2 169.8L163.1 164.7L164.3 160.4L164.5 160.1L165.2 161.0L165.5 160.6L166.3 154.5L166.6 153.5L166.8 153.6L167.4 155.1L168.2 153.7L168.4 153.8L169.3 157.1L170.1 154.5L170.3 154.4L170.4 154.7L171.5 162.0L173.5 170.7L174.5 177.6L174.6 177.9L174.8 177.7L175.4 175.2L175.5 175.1L175.7 175.5L177.0 191.4L177.8 193.3L178.7 198.3L179.8 202.4L180.1 202.9L180.8 202.1L181.1 202.5L181.9 208.6L182.3 209.5L183.0 207.9L183.7 209.2L183.9 209.3L184.9 206.0L185.7 208.5L185.9 208.5L186.0 208.2L187.1 201.0L189.1 192.6L190.1 185.4L190.2 185.1L190.3 185.2L191.0 187.8L191.1 187.8L191.3 187.3L192.3 174.2L192.6 171.5L193.4 169.6L194.3 164.6L195.4 160.6L195.7 160.1L196.4 160.9L196.6 160.4L197.6 153.8L197.8 153.5L197.9 153.6L198.6 155.1L199.3 153.8L199.5 153.7L200.2 156.5L200.5 157.0L201.4 154.4L201.8 155.7L202.7 162.1L204.7 170.5L205.7 177.6L205.8 177.9L205.9 177.8L206.6 175.2L206.9 175.8L208.1 191.2L208.9 193.2L209.9 198.5L211.0 202.5L211.3 202.9L211.9 202.1L212.2 202.4L213.0 208.4L213.4 209.5L214.2 207.9L214.9 209.2L215.1 209.2L216.0 206.0L216.3 206.4L216.8 208.4L217.0 208.6L217.1 208.3L218.2 201.1L220.3 192.4L221.2 185.6L221.5 185.1L222.1 187.7L222.2 187.8L222.4 187.4L223.6 172.6L223.9 171.2L224.6 169.5L225.6 164.1L226.7 160.2L227.0 160.1L227.5 160.9L227.8 160.5L228.8 153.7L229.0 153.5L229.1 153.7L229.8 155.1L230.6 153.7L231.6 157.0L232.4 154.6L232.6 154.5L232.7 154.8L233.8 162.0L235.8 170.7L236.8 177.7L237.0 177.9L237.1 177.7L237.7 175.3L237.9 175.4L239.2 191.0L240.1 193.3L241.0 198.3L242.1 202.4L242.4 202.9L243.1 202.1L243.4 202.6L244.2 208.6L244.6 209.5L245.3 207.9L246.0 209.2L246.2 209.3L247.2 206.0L248.0 208.5L248.1 208.6L248.2 208.4L249.4 201.0L251.4 192.6L252.4 185.4L252.5 185.1L252.6 185.2L253.3 187.8L253.4 187.8L253.6 187.2L254.8 172.3L255.0 171.3L255.7 169.6L256.8 164.0L257.8 160.2L258.1 160.1L258.7 160.9L258.9 160.6L260.0 153.6L260.2 153.6L260.9 155.1L261.7 153.7L262.7 157.0L263.0 156.6L263.6 154.5L263.8 154.5L263.9 154.9L264.9 161.8L267.0 170.5L268.0 177.6L268.1 177.9L268.2 177.8L268.9 175.2L269.1 175.5L270.4 191.2L271.2 193.2L272.2 198.5L273.3 202.5L273.6 202.9L274.2 202.1L274.5 202.4L275.3 208.4L275.7 209.5L276.5 207.9L277.2 209.2L277.4 209.2L278.3 206.0L278.6 206.4L279.1 208.4L279.3 208.6L279.4 208.3L280.5 201.1L282.6 192.4L283.5 185.6L283.8 185.1L284.4 187.7L284.5 187.8L284.7 187.4L285.9 172.5L286.2 171.2L286.9 169.5L287.9 164.1L289.0 160.2L289.3 160.1L289.8 160.9L290.1 160.5L291.1 153.7L291.3 153.5L291.4 153.7L292.1 155.1L292.8 153.7L293.1 154.2L293.9 157.0L294.7 154.6L294.9 154.5L295.0 154.8L296.1 162.0L298.1 170.7L299.1 177.7L299.3 177.9L299.4 177.7L300.0 175.3L300.2 175.4L301.6 191.0L302.4 193.3L303.3 198.3L304.4 202.4L304.7 202.9L305.4 202.1L305.7 202.6L306.5 208.6L306.9 209.5L307.6 207.9L308.3 209.2L308.5 209.3L309.5 206.0L310.3 208.5L310.4 208.6L310.6 208.4L311.7 200.9L313.7 192.6L314.7 185.4L314.8 185.1L314.9 185.2L315.6 187.8L315.7 187.8L315.9 187.2L317.0 172.8L317.3 171.3L318.0 169.6L319.1 164.0L320.1 160.2L320.4 160.1L321.0 160.9L321.2 160.6L322.3 153.6L322.5 153.6L323.2 155.1L324.0 153.7L325.0 157.0L325.3 156.6L325.9 154.5L326.1 154.5L326.2 155.0L327.2 161.8L329.3 170.5L330.3 177.6L330.4 177.9L330.5 177.8L331.2 175.2L331.4 175.5L332.7 191.2L333.5 193.2L334.5 198.5L335.6 202.5L335.9 202.9L336.5 202.1L336.8 202.5L337.6 208.4L338.0 209.5L338.8 207.9L339.5 209.2L339.7 209.2L340.6 206.0L340.9 206.4L341.4 208.4L341.6 208.6L341.7 208.2L342.8 201.1L344.9 192.4L345.8 185.5L346.1 185.2L346.7 187.7L346.8 187.8L347.0 187.4L348.2 172.5L348.5 171.2L349.2 169.5L350.2 164.1L351.2 160.3L351.5 160.1L352.1 160.9L352.4 160.5L353.4 153.7L353.6 153.6L354.4 155.1L355.1 153.7L355.4 154.2L356.2 157.0L357.0 154.6L357.2 154.5L357.3 154.8L358.4 162.0L360.5 170.7L361.4 177.8L361.6 177.9L361.7 177.7L362.3 175.2L362.5 175.4L363.9 191.0L364.7 193.3L365.6 198.3L366.7 202.4L367.0 202.9L367.7 202.1L368.0 202.6L368.8 208.6L369.2 209.5L369.9 207.9L370.6 209.2L370.8 209.3L371.8 206.0L372.6 208.5L372.7 208.6L372.9 208.4L374.0 200.9L376.0 192.6L377.0 185.4L377.1 185.1L377.2 185.2L377.9 187.8L378.0 187.8L378.2 187.2L379.3 172.8L379.6 171.3L380.3 169.6L381.4 164.0L382.4 160.2L382.7 160.1L383.3 160.9L383.5 160.6L384.6 153.6L384.8 153.6L385.5 155.1L386.3 153.7L387.3 157.0L387.6 156.6L388.2 154.5L388.4 154.5L388.5 155.0L389.5 161.8L391.6 170.5L392.6 177.7L392.7 177.9L392.8 177.7L393.5 175.2L393.7 175.5L395.0 191.2L395.8 193.2L396.8 198.5L397.9 202.5L398.2 202.9L398.8 202.1L399.1 202.5L399.9 208.4L400.3 209.5L401.1 207.9L401.8 209.2L402.0 209.2L402.9 206.0L403.2 206.5L403.7 208.4L403.9 208.6L404.0 208.2L405.1 201.1L407.2 192.4L408.1 185.5L408.4 185.2L409.0 187.7L409.1 187.8L409.3 187.4L410.5 172.5L410.8 171.2L411.5 169.4L412.5 164.1L413.5 160.3L413.8 160.1L414.4 160.9L414.7 160.5L415.7 153.7L415.9 153.6L416.7 155.1L417.4 153.7L417.7 154.2L418.5 157.0L419.3 154.6L419.5 154.5L419.6 154.8L420.7 162.0L422.7 170.3L423.7 177.8L423.9 177.9L424.0 177.6L424.6 175.2L424.8 175.4L426.2 191.0L427.0 193.3L427.9 198.4L429.0 202.4L429.3 202.9L430.0 202.1L430.3 202.6L431.1 208.6L431.5 209.5L432.3 207.9L432.9 209.2L433.1 209.3L434.1 206.0L434.9 208.5L435.0 208.6L435.2 208.3L436.3 200.9L438.3 192.6L439.3 185.4L439.4 185.1L439.6 185.2L440.2 187.8L440.5 187.2L441.6 172.8L441.9 171.3L442.6 169.6L443.7 164.0L444.7 160.2L445.0 160.1L445.6 160.9L445.8 160.6L446.9 153.6L447.1 153.6L447.8 155.1L448.6 153.7L449.6 157.0L449.9 156.6L450.5 154.5L450.7 154.5L450.8 155.0L451.8 161.8L453.9 170.5L454.9 177.7L455.0 177.9L455.1 177.7L455.8 175.2L456.0 175.5L457.3 191.2L458.1 193.2L459.1 198.5L460.2 202.5L460.5 202.9L461.1 202.1L461.4 202.5L462.2 208.4L462.6 209.5L463.4 207.9L464.1 209.2L464.3 209.2L465.2 206.0L465.5 206.5L466.0 208.4L466.2 208.6L466.3 208.2L467.4 201.1L469.5 192.4L470.4 185.5L470.5 185.1L470.7 185.2L471.3 187.7L471.4 187.8L471.6 187.4L472.8 172.5L473.0 171.4L473.8 169.4L474.8 164.1L475.8 160.3L476.1 160.1L476.7 160.9L477.0 160.5L478.0 153.7L478.3 153.6L479.0 155.1L479.7 153.7L480.0 154.2L480.8 157.0L481.6 154.6L481.8 154.5L481.9 154.8L483.0 162.0L485.0 170.3L486.0 177.8L486.2 177.9L486.3 177.6L486.9 175.2L487.1 175.4L488.4 190.6L488.6 191.7L489.3 193.3L490.2 198.4L491.3 202.4L491.6 202.9L492.2 202.2L492.5 202.4L493.3 208.2L493.7 209.5L494.6 207.9L495.2 209.2L495.4 209.3L496.3 206.0L496.6 206.3L497.2 208.5L497.4 208.5L497.6 207.8" stroke="#1f8ad2"/>
<path d="M72.4 187.2L76.1 169.3L78.4 160.4L79.6 157.4L80.7 155.4L81.8 154.7L82.3 154.7L82.8 155.0L83.7 156.1L84.7 157.9L86.6 164.1L88.5 172.0L93.0 193.7L95.2 202.4L96.4 205.6L97.6 207.6L98.1 208.1L98.7 208.3L99.2 208.3L99.8 208.0L100.7 206.8L101.6 204.9L103.6 198.6L105.4 190.7L109.7 170.0L111.8 161.5L112.9 158.4L112.9 163.5L113.1 163.2L114.0 153.6L114.4 152.2L115.2 155.6L115.9 153.4L116.1 153.2L116.2 153.4L117.1 158.1L117.4 157.3L118.0 153.1L118.2 152.5L118.3 152.8L119.4 161.9L120.7 167.8L121.6 170.7L122.5 178.6L122.7 179.0L122.9 178.3L123.5 172.9L123.6 172.7L123.8 173.2L124.7 188.8L125.1 192.3L125.2 192.8L125.7 193.1L125.9 193.6L126.8 198.6L127.9 202.8L128.2 203.0L128.8 201.3L129.0 201.2L129.1 201.4L130.0 208.7L130.3 210.0L131.1 207.7L131.3 207.9L131.8 209.4L132.0 209.4L132.9 205.6L133.8 209.1L133.9 209.3L134.1 209.0L135.1 201.0L137.2 192.3L138.1 185.1L138.2 184.7L138.4 184.9L139.0 188.5L139.2 188.8L139.3 188.5L140.7 171.3L141.4 169.7L142.4 164.6L143.5 160.4L143.8 160.1L144.5 161.2L144.7 160.9L145.5 154.4L145.9 153.3L146.7 155.2L147.4 153.7L147.6 153.7L148.5 157.2L149.3 154.4L149.5 154.2L149.7 154.5L150.7 162.0L152.8 170.7L153.7 177.7L153.8 178.0L154.1 177.7L154.6 174.9L154.8 174.8L154.9 175.3L155.9 188.7L156.2 191.5L157.0 193.3L158.0 198.4L159.0 202.4L159.4 202.9L160.0 202.0L160.3 202.4L161.1 208.6L161.5 209.5L162.3 207.9L162.9 209.2L163.1 209.3L163.2 209.2L164.1 205.9L164.9 208.5L165.1 208.6L165.3 208.2L166.3 200.9L168.3 192.6L169.3 185.4L169.4 185.1L169.6 185.2L170.2 187.9L170.4 187.9L170.5 187.4L171.5 174.1L171.8 171.5L172.6 169.6L173.5 164.6L174.6 160.5L175.0 160.1L175.6 160.9L175.9 160.4L176.7 154.7L177.0 153.5L177.8 155.1L178.0 155.0L178.5 153.8L178.7 153.7L179.6 157.0L179.9 156.6L180.5 154.5L180.6 154.4L180.8 154.6L181.8 161.8L183.9 170.5L184.8 177.4L185.0 177.8L185.2 177.8L185.8 175.2L186.1 175.8L187.4 191.2L188.1 193.2L189.1 198.5L190.2 202.5L190.6 202.9L191.1 202.1L191.4 202.4L192.3 208.4L192.6 209.5L193.4 207.9L194.1 209.2L194.3 209.2L195.2 206.0L195.5 206.4L196.0 208.4L196.2 208.6L196.4 208.3L197.4 201.1L199.5 192.4L200.4 185.6L200.7 185.1L201.3 187.7L201.5 187.8L201.6 187.5L203.0 171.7L203.7 169.8L204.7 164.8L205.7 160.7L206.1 160.1L206.7 160.9L207.0 160.5L207.8 154.5L208.2 153.5L209.0 155.1L209.7 153.7L209.9 153.8L210.8 157.0L211.6 154.6L211.8 154.5L212.0 154.8L213.0 162.0L215.1 170.7L216.0 177.5L216.1 177.9L216.4 177.7L216.9 175.3L217.1 175.2L217.2 175.6L218.6 191.4L219.3 193.3L220.3 198.3L221.3 202.4L221.7 202.9L222.3 202.1L222.6 202.6L223.4 208.6L223.8 209.5L224.6 207.9L225.2 209.2L225.4 209.3L226.4 206.0L227.2 208.5L227.4 208.5L227.6 208.1L228.6 201.0L230.6 192.6L231.6 185.4L231.7 185.1L231.9 185.2L232.5 187.8L232.7 187.8L232.8 187.2L233.8 174.2L234.1 171.6L234.9 169.6L235.8 164.6L236.9 160.6L237.3 160.1L237.9 160.9L238.2 160.4L239.0 154.7L239.3 153.5L240.1 155.1L240.3 154.9L240.8 153.8L241.0 153.8L241.9 157.0L242.2 156.6L242.8 154.5L242.9 154.4L243.1 154.7L244.1 161.8L246.2 170.5L247.1 177.4L247.3 177.8L247.5 177.8L248.1 175.2L248.4 175.9L249.7 191.2L250.4 193.2L251.4 198.5L252.5 202.5L252.8 202.9L253.4 202.1L253.7 202.4L254.6 208.4L254.9 209.5L255.7 207.9L256.4 209.2L256.6 209.2L257.5 206.0L257.8 206.4L258.3 208.4L258.5 208.6L258.7 208.3L259.7 201.1L261.8 192.4L262.7 185.6L263.0 185.1L263.6 187.7L263.8 187.8L263.9 187.4L265.3 171.7L266.0 169.8L267.0 164.8L268.0 160.7L268.4 160.1L269.0 160.9L269.3 160.5L270.2 154.5L270.5 153.5L271.3 155.1L271.9 153.8L272.2 153.8L273.1 157.0L273.9 154.6L274.1 154.5L274.3 154.8L275.3 162.0L277.4 170.7L278.3 177.5L278.4 177.9L278.7 177.7L279.2 175.3L279.4 175.2L279.5 175.7L280.9 191.4L281.6 193.3L282.6 198.3L283.6 202.4L284.0 202.9L284.6 202.1L284.9 202.6L285.7 208.6L286.1 209.5L286.9 207.9L287.5 209.2L287.7 209.3L288.7 206.0L289.5 208.5L289.7 208.5L289.9 208.1L290.9 201.0L292.9 192.6L293.9 185.4L294.0 185.1L294.2 185.2L294.8 187.8L295.0 187.8L295.1 187.2L296.1 174.2L296.4 171.5L297.2 169.6L298.1 164.6L299.2 160.5L299.6 160.1L300.2 160.9L300.5 160.4L301.3 154.7L301.6 153.5L302.4 155.1L303.1 153.8L303.3 153.8L304.2 157.0L304.5 156.6L305.1 154.5L305.2 154.4L305.4 154.7L306.4 161.8L308.5 170.5L309.4 177.4L309.6 177.8L309.8 177.8L310.4 175.2L310.7 175.9L312.0 191.2L312.7 193.2L313.7 198.5L314.8 202.5L315.1 202.9L315.7 202.1L316.0 202.5L316.9 208.4L317.2 209.5L318.0 207.9L318.7 209.2L318.9 209.2L319.8 206.0L320.1 206.4L320.6 208.4L320.8 208.6L321.0 208.2L322.0 201.1L324.1 192.4L325.0 185.6L325.3 185.1L325.9 187.7L326.1 187.8L326.2 187.4L327.6 171.7L328.3 169.8L329.3 164.7L330.3 160.6L330.7 160.1L331.3 160.9L331.6 160.5L332.5 154.5L332.8 153.5L333.6 155.1L334.2 153.8L334.5 153.8L335.4 157.0L336.2 154.6L336.4 154.5L336.6 154.8L337.6 162.0L339.7 170.7L340.6 177.5L340.7 177.9L341.0 177.7L341.5 175.2L341.7 175.2L341.8 175.7L342.8 188.7L343.2 191.4L343.9 193.3L344.9 198.3L345.9 202.4L346.3 202.9L346.9 202.1L347.2 202.6L348.0 208.2L348.3 209.5L349.2 207.9L349.8 209.2L350.0 209.3L351.0 206.0L351.8 208.5L352.0 208.5L352.2 208.1L353.1 201.3L355.2 192.6L356.2 185.4L356.3 185.1L356.5 185.2L357.1 187.8L357.3 187.8L357.4 187.2L358.7 171.9L359.5 169.6L360.5 164.6L361.5 160.5L361.9 160.1L362.5 160.9L362.8 160.4L363.6 154.7L363.9 153.5L364.7 155.1L365.4 153.8L365.6 153.8L366.5 157.0L366.8 156.6L367.4 154.5L367.5 154.4L367.7 154.7L368.7 161.8L370.8 170.5L371.7 177.4L371.9 177.8L372.1 177.7L372.7 175.2L373.0 175.9L374.3 191.2L375.1 193.2L376.0 198.5L377.1 202.5L377.4 202.9L378.0 202.1L378.3 202.5L379.2 208.4L379.5 209.5L380.3 207.9L381.0 209.2L381.2 209.2L382.1 206.0L382.4 206.5L382.9 208.4L383.1 208.6L383.3 208.2L384.3 201.1L386.4 192.4L387.3 185.5L387.6 185.2L388.2 187.7L388.4 187.8L388.5 187.4L389.9 171.7L390.6 169.7L391.6 164.7L392.6 160.6L393.0 160.1L393.6 160.9L393.9 160.5L394.8 154.5L395.1 153.5L395.9 155.1L396.5 153.8L396.7 153.7L396.8 153.8L397.7 157.0L398.5 154.6L398.7 154.5L398.9 154.8L399.9 162.0L402.0 170.7L402.9 177.5L403.0 177.9L403.3 177.7L403.8 175.2L404.0 175.2L404.1 175.7L405.1 188.7L405.5 191.4L406.2 193.3L407.2 198.3L408.2 202.4L408.6 202.9L409.2 202.1L409.5 202.6L410.3 208.2L410.6 209.5L411.5 207.9L412.1 209.2L412.3 209.3L413.3 206.0L414.1 208.5L414.3 208.5L414.5 208.1L415.5 201.3L417.5 192.6L418.5 185.4L418.6 185.1L418.8 185.2L419.4 187.8L419.7 187.2L421.0 171.9L421.8 169.6L422.8 164.6L423.8 160.5L424.2 160.1L424.7 160.9L425.0 160.6L425.9 154.7L426.2 153.5L427.0 155.1L427.7 153.8L427.9 153.8L428.8 157.0L429.1 156.6L429.7 154.5L429.8 154.4L430.0 154.7L431.0 161.8L433.1 170.5L434.0 177.4L434.2 177.8L434.4 177.7L435.0 175.2L435.3 175.9L436.6 191.2L437.4 193.2L438.3 198.5L439.4 202.5L439.7 202.9L440.3 202.1L440.6 202.5L441.5 208.4L441.8 209.5L442.6 207.9L443.3 209.2L443.5 209.2L444.4 206.0L444.7 206.5L445.2 208.4L445.4 208.6L445.6 208.2L446.6 201.1L448.7 192.4L449.6 185.5L449.8 185.1L449.9 185.2L450.5 187.7L450.7 187.8L450.8 187.4L452.2 171.7L452.9 169.7L453.9 164.7L454.9 160.6L455.3 160.1L455.9 160.9L456.2 160.5L457.1 154.5L457.3 153.6L458.2 155.1L458.8 153.8L459.0 153.7L459.1 153.8L460.0 157.0L460.8 154.6L461.0 154.5L461.2 154.8L462.2 162.0L464.3 170.7L465.2 177.5L465.4 177.9L465.6 177.6L466.1 175.2L466.3 175.2L466.4 175.7L467.4 188.7L467.8 191.4L468.5 193.3L469.5 198.4L470.5 202.4L470.9 202.9L471.5 202.1L471.8 202.6L472.6 208.2L472.9 209.5L473.8 207.9L474.4 209.2L474.6 209.3L475.6 206.0L475.8 206.3L476.4 208.5L476.6 208.5L476.8 208.1L477.8 201.3L479.8 192.6L480.8 185.4L480.9 185.1L481.1 185.2L481.7 187.8L482.0 187.2L483.3 171.8L484.1 169.6L485.1 164.6L486.1 160.5L486.5 160.1L487.0 160.9L487.3 160.6L488.5 153.6L488.7 153.6L489.3 155.1L490.0 153.8L490.2 153.8L491.2 157.0L491.4 156.6L491.9 154.7L492.1 154.4L492.2 154.5L493.3 161.8L495.4 170.5L496.3 177.4L496.5 177.8L496.7 177.7L497.3 175.2L497.6 175.9" stroke="#f4622c"/>
<path d="M72.4 201.3L74.1 206.0L74.9 207.3L75.7 208.1L76.4 208.4L77.2 208.0L78.0 207.1L78.8 205.5L80.3 201.6L81.8 195.9L87.0 170.8L89.1 162.2L90.3 158.7L91.3 156.3L92.4 155.0L93.0 154.7L93.5 154.7L94.4 155.3L95.5 157.0L96.6 159.6L97.6 163.1L99.6 171.4L104.4 194.4L105.6 199.6L106.8 203.5L108.4 207.0L109.2 208.0L109.9 208.3L110.6 208.2L111.4 207.6L112.9 204.9L112.9 210.5L113.9 200.7L115.2 195.0L116.1 192.1L117.1 183.8L117.3 183.6L117.5 184.5L118.2 191.1L118.3 191.3L118.5 190.7L119.4 174.5L119.8 170.2L120.0 169.8L120.5 169.8L120.7 169.4L121.6 164.2L122.7 160.1L122.9 159.9L123.1 160.1L123.6 162.1L123.8 162.2L123.9 161.9L124.8 154.0L125.1 152.8L125.9 155.4L126.6 153.5L126.8 153.5L127.8 157.6L128.5 153.8L128.7 153.5L128.9 153.8L129.9 161.8L131.9 170.4L132.9 178.2L133.1 178.4L133.3 177.9L133.9 174.1L134.0 173.9L134.1 174.2L135.1 189.0L135.5 191.9L136.3 193.4L137.2 198.5L138.2 202.6L138.6 203.0L139.2 201.6L139.5 202.0L140.5 209.4L140.7 209.7L140.8 209.6L141.5 207.8L142.1 209.3L142.4 209.4L143.3 205.8L144.3 208.9L144.6 207.8L145.5 200.9L147.5 192.6L148.5 185.2L148.7 184.9L148.8 185.1L149.4 188.2L149.6 188.3L149.7 187.8L150.7 174.0L151.1 171.3L151.9 169.6L152.8 164.5L153.8 160.5L154.2 160.1L154.8 161.1L155.1 160.6L155.9 154.7L156.2 153.4L157.1 155.1L157.7 153.8L158.0 153.7L158.9 157.1L159.2 156.7L159.7 154.4L159.9 154.3L160.0 154.5L161.1 161.8L163.1 170.5L164.0 177.4L164.2 177.9L164.4 177.8L165.0 175.0L165.3 175.6L166.6 191.3L167.4 193.5L168.4 198.5L169.4 202.5L169.8 202.9L170.4 202.1L170.6 202.4L171.7 209.3L171.8 209.5L172.0 209.4L172.6 207.9L173.3 209.2L173.5 209.2L174.5 206.0L174.7 206.4L175.2 208.4L175.5 208.6L175.8 207.3L176.7 201.1L178.7 192.4L179.6 185.5L179.9 185.1L180.6 187.8L180.7 187.9L180.8 187.5L182.2 171.7L183.0 169.8L183.9 164.7L185.0 160.6L185.3 160.1L185.9 160.9L186.2 160.5L187.1 154.5L187.4 153.5L188.2 155.1L188.9 153.7L189.1 153.8L190.1 157.0L190.8 154.6L191.1 154.4L191.2 154.8L192.3 162.0L194.3 170.7L195.2 177.5L195.4 177.9L195.6 177.7L196.2 175.2L196.3 175.2L196.4 175.6L197.6 190.6L197.9 191.7L198.6 193.3L199.6 198.9L200.7 202.7L201.0 202.9L201.5 202.1L201.8 202.6L202.9 209.4L203.1 209.4L203.8 207.9L204.6 209.3L204.9 208.8L205.6 206.0L205.9 206.3L206.4 208.5L206.6 208.5L206.8 208.1L207.8 201.0L209.8 192.6L210.8 185.4L211.0 185.1L211.1 185.2L211.7 187.6L211.8 187.8L212.0 187.6L213.3 171.9L214.2 169.6L215.1 164.6L216.1 160.6L216.5 160.1L217.1 160.9L217.4 160.4L218.2 154.7L218.6 153.5L219.3 155.1L219.5 155.0L220.0 153.8L220.3 153.7L221.2 157.0L221.5 156.6L222.0 154.5L222.2 154.4L222.3 154.7L223.4 161.8L225.4 170.5L226.3 177.4L226.6 177.9L227.3 175.3L227.4 175.2L227.6 175.5L228.8 190.3L229.0 191.8L229.8 193.5L230.8 199.1L231.9 202.8L232.2 202.9L232.7 202.1L232.9 202.4L234.0 209.3L234.1 209.5L234.3 209.4L234.9 207.9L235.8 209.3L236.8 206.0L237.1 206.4L237.5 208.4L237.8 208.6L237.9 208.3L239.0 201.1L241.0 192.4L242.0 185.3L242.2 185.1L242.3 185.3L242.9 187.7L243.0 187.8L243.1 187.4L244.5 171.7L245.3 169.8L246.2 164.8L247.3 160.7L247.6 160.1L248.2 160.9L248.5 160.5L249.4 154.5L249.7 153.5L250.5 155.1L251.2 153.8L251.4 153.8L252.4 157.0L253.1 154.6L253.4 154.5L253.5 154.8L254.6 162.0L256.6 170.7L257.5 177.5L257.7 177.9L257.9 177.7L258.5 175.3L258.6 175.2L258.7 175.7L259.9 190.6L260.2 191.6L260.9 193.3L261.9 198.9L263.0 202.7L263.3 202.9L263.8 202.1L264.1 202.6L265.2 209.4L265.4 209.4L266.1 207.9L266.9 209.3L267.2 208.8L267.9 206.0L268.2 206.3L268.7 208.5L268.9 208.5L269.1 208.1L270.2 201.0L272.1 192.6L273.1 185.4L273.3 185.1L273.4 185.2L274.0 187.6L274.1 187.8L274.3 187.6L275.6 171.9L276.5 169.6L277.4 164.6L278.4 160.5L278.8 160.1L279.4 160.9L279.7 160.4L280.5 154.7L280.9 153.5L281.6 155.1L281.8 154.9L282.3 153.8L282.6 153.8L283.5 157.0L283.8 156.6L284.3 154.5L284.5 154.4L284.6 154.7L285.7 161.8L287.7 170.5L288.7 177.4L288.9 177.9L289.6 175.3L289.7 175.2L289.9 175.5L291.1 190.3L291.3 191.8L292.1 193.5L293.1 199.1L294.2 202.8L294.5 202.9L295.0 202.1L295.2 202.5L296.3 209.3L296.4 209.5L296.6 209.3L297.2 207.9L298.1 209.3L299.1 206.0L299.4 206.4L299.8 208.4L300.1 208.6L300.2 208.2L301.3 201.1L303.3 192.4L304.3 185.3L304.5 185.1L304.6 185.3L305.2 187.7L305.3 187.8L305.4 187.4L306.8 171.7L307.6 169.8L308.5 164.7L309.6 160.6L309.9 160.1L310.6 160.9L310.8 160.5L311.7 154.5L312.0 153.5L312.8 155.1L313.5 153.8L313.7 153.8L314.7 157.0L315.4 154.6L315.7 154.5L315.8 154.8L316.9 162.0L318.9 170.7L319.8 177.5L320.0 177.9L320.2 177.7L320.8 175.3L320.9 175.2L321.0 175.7L322.2 190.6L322.5 191.7L323.2 193.3L324.2 198.9L325.3 202.7L325.6 202.9L326.1 202.1L326.4 202.6L327.5 209.4L327.7 209.4L328.4 207.9L329.2 209.3L329.5 208.8L330.2 206.0L330.5 206.3L331.0 208.5L331.2 208.5L331.4 208.1L332.4 201.3L334.4 192.6L335.4 185.4L335.6 185.1L335.7 185.2L336.3 187.6L336.4 187.8L336.6 187.6L337.9 171.9L338.8 169.6L339.7 164.6L340.7 160.5L341.1 160.1L341.7 160.9L342.0 160.4L342.8 154.7L343.2 153.5L343.9 155.1L344.6 153.8L344.9 153.8L345.8 157.0L346.1 156.6L346.6 154.5L346.8 154.4L346.9 154.7L348.0 161.8L350.0 170.5L351.0 177.4L351.2 177.9L351.9 175.3L352.0 175.2L352.2 175.5L353.4 190.3L353.6 191.8L354.4 193.5L355.4 199.1L356.5 202.8L356.8 202.9L357.3 202.1L357.5 202.5L358.6 209.3L358.7 209.5L358.9 209.3L359.5 207.9L360.4 209.3L361.4 206.0L361.7 206.5L362.2 208.4L362.4 208.6L362.5 208.2L363.6 201.1L365.6 192.4L366.6 185.3L366.8 185.1L366.9 185.3L367.5 187.7L367.6 187.8L367.8 187.4L369.1 171.7L369.9 169.8L370.8 164.7L371.9 160.6L372.2 160.1L372.9 160.9L373.1 160.5L374.0 154.5L374.3 153.5L375.1 155.1L375.8 153.8L375.9 153.7L376.0 153.8L377.0 157.0L377.7 154.6L378.0 154.5L378.1 154.8L379.2 162.0L381.2 170.7L382.1 177.5L382.3 177.9L382.5 177.7L383.1 175.2L383.2 175.2L383.3 175.7L384.5 190.6L384.8 191.7L385.5 193.3L386.5 199.0L387.6 202.7L387.9 202.9L388.4 202.1L388.7 202.4L389.8 209.4L390.0 209.4L390.7 207.9L391.5 209.3L392.5 206.0L392.8 206.3L393.3 208.5L393.6 208.5L393.7 208.1L394.7 201.3L396.7 192.6L397.7 185.4L397.9 185.1L398.0 185.2L398.6 187.6L398.7 187.8L398.9 187.6L400.2 171.9L401.1 169.6L402.0 164.6L403.0 160.5L403.4 160.1L404.0 160.9L404.3 160.3L405.1 154.7L405.5 153.5L406.2 155.1L406.9 153.8L407.2 153.8L408.1 157.0L408.4 156.6L408.9 154.5L409.1 154.4L409.2 154.7L410.3 161.8L412.3 170.5L413.3 177.4L413.5 177.9L414.2 175.3L414.3 175.2L414.5 175.5L415.7 190.4L415.9 191.8L416.7 193.5L417.7 199.1L418.8 202.8L419.1 202.9L419.6 202.1L419.8 202.5L420.9 209.3L421.1 209.5L421.2 209.3L421.8 207.9L422.7 209.3L423.7 206.0L424.0 206.5L424.5 208.4L424.7 208.6L424.8 208.2L425.9 201.1L427.9 192.4L428.9 185.3L429.1 185.1L429.2 185.3L429.8 187.7L429.9 187.8L430.1 187.4L431.4 171.7L432.2 169.7L433.1 164.7L434.2 160.6L434.5 160.1L435.2 160.9L435.4 160.5L436.3 154.5L436.6 153.5L437.4 155.1L438.1 153.8L438.2 153.7L438.3 153.8L439.3 157.0L440.0 154.6L440.3 154.5L440.4 154.8L441.5 162.0L443.5 170.7L444.4 177.5L444.6 177.9L444.8 177.6L445.4 175.2L445.5 175.2L445.6 175.7L446.9 190.6L447.1 191.7L447.8 193.3L448.8 199.0L449.9 202.7L450.2 202.9L450.7 202.1L451.0 202.4L452.1 209.4L452.3 209.4L453.0 207.9L453.8 209.3L454.8 206.0L455.1 206.3L455.6 208.5L455.9 208.5L456.0 208.1L457.0 201.3L459.0 192.6L460.0 185.4L460.2 185.1L460.3 185.2L460.9 187.6L461.0 187.8L461.2 187.6L462.5 171.9L463.4 169.6L464.3 164.6L465.4 160.5L465.7 160.1L466.3 160.9L466.6 160.6L467.4 154.7L467.8 153.5L468.5 155.1L469.2 153.8L469.5 153.8L470.4 157.0L470.7 156.6L471.2 154.5L471.4 154.4L471.5 154.7L472.6 161.8L474.6 170.5L475.6 177.4L475.7 177.8L475.9 177.7L476.5 175.2L476.8 175.9L478.1 191.2L478.9 193.2L479.9 198.5L480.9 202.5L481.2 202.9L481.9 202.1L482.1 202.5L483.0 208.4L483.4 209.5L484.1 207.9L484.8 209.2L485.1 209.2L486.0 206.0L486.3 206.5L486.8 208.4L487.0 208.5L487.1 208.2L488.2 201.1L490.2 192.4L491.2 185.5L491.3 185.1L491.4 185.2L492.1 187.7L492.2 187.8L492.4 187.4L493.7 171.7L494.5 169.7L495.4 164.7L496.5 160.6L496.8 160.1L497.4 160.8L497.6 160.8" stroke="#1c1c1c"/>
</g>
<rect x="72.40" y="135.20" width="425.20" height="92.60" fill="none" stroke="#8c8c8c" stroke-width="0.8"/>
<line x1="72.40" y1="227.80" x2="72.40" y2="225.30" stroke="#666" stroke-width="0.7"/>
<line x1="72.40" y1="135.20" x2="72.40" y2="137.70" stroke="#666" stroke-width="0.7"/>
<text transform="translate(72.40,240.90) scale(1.030,1)" text-anchor="middle" font-family='"Liberation Sans", Arial, sans-serif' font-size="8.9" font-weight="bold" fill="#111">0.98</text>
<line x1="112.90" y1="227.80" x2="112.90" y2="225.30" stroke="#666" stroke-width="0.7"/>
<line x1="112.90" y1="135.20" x2="112.90" y2="137.70" stroke="#666" stroke-width="0.7"/>
<text transform="translate(112.90,240.90) scale(1.030,1)" text-anchor="middle" font-family='"Liberation Sans", Arial, sans-serif' font-size="8.9" font-weight="bold" fill="#111">1</text>
<line x1="153.39" y1="227.80" x2="153.39" y2="225.30" stroke="#666" stroke-width="0.7"/>
<line x1="153.39" y1="135.20" x2="153.39" y2="137.70" stroke="#666" stroke-width="0.7"/>
<text transform="translate(153.39,240.90) scale(1.030,1)" text-anchor="middle" font-family='"Liberation Sans", Arial, sans-serif' font-size="8.9" font-weight="bold" fill="#111">1.02</text>
<line x1="193.89" y1="227.80" x2="193.89" y2="225.30" stroke="#666" stroke-width="0.7"/>
<line x1="193.89" y1="135.20" x2="193.89" y2="137.70" stroke="#666" stroke-width="0.7"/>
<text transform="translate(193.89,240.90) scale(1.030,1)" text-anchor="middle" font-family='"Liberation Sans", Arial, sans-serif' font-size="8.9" font-weight="bold" fill="#111">1.04</text>
<line x1="234.38" y1="227.80" x2="234.38" y2="225.30" stroke="#666" stroke-width="0.7"/>
<line x1="234.38" y1="135.20" x2="234.38" y2="137.70" stroke="#666" stroke-width="0.7"/>
<text transform="translate(234.38,240.90) scale(1.030,1)" text-anchor="middle" font-family='"Liberation Sans", Arial, sans-serif' font-size="8.9" font-weight="bold" fill="#111">1.06</text>
<line x1="274.88" y1="227.80" x2="274.88" y2="225.30" stroke="#666" stroke-width="0.7"/>
<line x1="274.88" y1="135.20" x2="274.88" y2="137.70" stroke="#666" stroke-width="0.7"/>
<text transform="translate(274.88,240.90) scale(1.030,1)" text-anchor="middle" font-family='"Liberation Sans", Arial, sans-serif' font-size="8.9" font-weight="bold" fill="#111">1.08</text>
<line x1="315.37" y1="227.80" x2="315.37" y2="225.30" stroke="#666" stroke-width="0.7"/>
<line x1="315.37" y1="135.20" x2="315.37" y2="137.70" stroke="#666" stroke-width="0.7"/>
<text transform="translate(315.37,240.90) scale(1.030,1)" text-anchor="middle" font-family='"Liberation Sans", Arial, sans-serif' font-size="8.9" font-weight="bold" fill="#111">1.1</text>
<line x1="355.87" y1="227.80" x2="355.87" y2="225.30" stroke="#666" stroke-width="0.7"/>
<line x1="355.87" y1="135.20" x2="355.87" y2="137.70" stroke="#666" stroke-width="0.7"/>
<text transform="translate(355.87,240.90) scale(1.030,1)" text-anchor="middle" font-family='"Liberation Sans", Arial, sans-serif' font-size="8.9" font-weight="bold" fill="#111">1.12</text>
<line x1="396.36" y1="227.80" x2="396.36" y2="225.30" stroke="#666" stroke-width="0.7"/>
<line x1="396.36" y1="135.20" x2="396.36" y2="137.70" stroke="#666" stroke-width="0.7"/>
<text transform="translate(396.36,240.90) scale(1.030,1)" text-anchor="middle" font-family='"Liberation Sans", Arial, sans-serif' font-size="8.9" font-weight="bold" fill="#111">1.14</text>
<line x1="436.86" y1="227.80" x2="436.86" y2="225.30" stroke="#666" stroke-width="0.7"/>
<line x1="436.86" y1="135.20" x2="436.86" y2="137.70" stroke="#666" stroke-width="0.7"/>
<text transform="translate(436.86,240.90) scale(1.030,1)" text-anchor="middle" font-family='"Liberation Sans", Arial, sans-serif' font-size="8.9" font-weight="bold" fill="#111">1.16</text>
<line x1="477.35" y1="227.80" x2="477.35" y2="225.30" stroke="#666" stroke-width="0.7"/>
<line x1="477.35" y1="135.20" x2="477.35" y2="137.70" stroke="#666" stroke-width="0.7"/>
<text transform="translate(477.35,240.90) scale(1.030,1)" text-anchor="middle" font-family='"Liberation Sans", Arial, sans-serif' font-size="8.9" font-weight="bold" fill="#111">1.18</text>
<line x1="72.40" y1="218.54" x2="74.90" y2="218.54" stroke="#666" stroke-width="0.7"/>
<line x1="497.60" y1="218.54" x2="495.10" y2="218.54" stroke="#666" stroke-width="0.7"/>
<text transform="translate(69.30,221.74) scale(1.030,1)" text-anchor="end" font-family='"Liberation Sans", Arial, sans-serif' font-size="8.9" font-weight="bold" fill="#111">-20</text>
<line x1="72.40" y1="200.02" x2="74.90" y2="200.02" stroke="#666" stroke-width="0.7"/>
<line x1="497.60" y1="200.02" x2="495.10" y2="200.02" stroke="#666" stroke-width="0.7"/>
<text transform="translate(69.30,203.22) scale(1.030,1)" text-anchor="end" font-family='"Liberation Sans", Arial, sans-serif' font-size="8.9" font-weight="bold" fill="#111">-10</text>
<line x1="72.40" y1="181.50" x2="74.90" y2="181.50" stroke="#666" stroke-width="0.7"/>
<line x1="497.60" y1="181.50" x2="495.10" y2="181.50" stroke="#666" stroke-width="0.7"/>
<text transform="translate(69.30,184.70) scale(1.030,1)" text-anchor="end" font-family='"Liberation Sans", Arial, sans-serif' font-size="8.9" font-weight="bold" fill="#111">0</text>
<line x1="72.40" y1="162.98" x2="74.90" y2="162.98" stroke="#666" stroke-width="0.7"/>
<line x1="497.60" y1="162.98" x2="495.10" y2="162.98" stroke="#666" stroke-width="0.7"/>
<text transform="translate(69.30,166.18) scale(1.030,1)" text-anchor="end" font-family='"Liberation Sans", Arial, sans-serif' font-size="8.9" font-weight="bold" fill="#111">10</text>
<line x1="72.40" y1="144.46" x2="74.90" y2="144.46" stroke="#666" stroke-width="0.7"/>
<line x1="497.60" y1="144.46" x2="495.10" y2="144.46" stroke="#666" stroke-width="0.7"/>
<text transform="translate(69.30,147.66) scale(1.030,1)" text-anchor="end" font-family='"Liberation Sans", Arial, sans-serif' font-size="8.9" font-weight="bold" fill="#111">20</text>
<rect x="398" y="137" width="88" height="14" fill="#fff"/>
<line x1="401.00" y1="143.40" x2="412.20" y2="143.40" stroke="#1f8ad2" stroke-width="1"/>
<text transform="translate(413.30,146.40)" text-anchor="start" font-family='"Liberation Sans", Arial, sans-serif' font-size="8.8" font-weight="bold" fill="#111">Igr</text>
<line x1="426.60" y1="143.40" x2="437.80" y2="143.40" stroke="#f4622c" stroke-width="1"/>
<text transform="translate(439.60,146.40)" text-anchor="start" font-family='"Liberation Sans", Arial, sans-serif' font-size="8.8" font-weight="bold" fill="#111">Igs</text>
<line x1="455.50" y1="143.40" x2="466.70" y2="143.40" stroke="#1c1c1c" stroke-width="1"/>
<text transform="translate(467.40,146.40)" text-anchor="start" font-family='"Liberation Sans", Arial, sans-serif' font-size="8.8" font-weight="bold" fill="#111">Igt</text>
<text transform="translate(53.50,182.20) rotate(-90)" text-anchor="middle" font-family='"Liberation Sans", Arial, sans-serif' font-size="10.2" font-weight="bold" fill="#111">Igrid (A)</text>
<line x1="135.00" y1="215.50" x2="114.20" y2="187.40" stroke="#111" stroke-width="0.9"/>
<path d="M113.3 186.2 L115.8 188.4 L113.9 189.5 Z" fill="#111"/>
<text transform="translate(135.70,223.80)" text-anchor="start" font-family='"Liberation Sans", Arial, sans-serif' font-size="6.8" font-weight="bold" fill="#111">Step of Frequency</text>
<text transform="translate(285.40,253.90) scale(1.080,1)" text-anchor="middle" font-family='"Liberation Sans", Arial, sans-serif' font-size="9.4" font-weight="bold" fill="#111">Time (s)</text>
<text transform="translate(275.2,280.8)" text-anchor="middle" font-family='"Liberation Serif", "Times New Roman", serif' font-size="15.5" fill="#111">(<tspan font-weight="bold">a</tspan>)</text>
<line x1="52.60" y1="304.80" x2="52.60" y2="559.60" stroke="#e8e8e8" stroke-width="0.7" stroke-dasharray="1,1.5"/>
<line x1="64.50" y1="304.80" x2="64.50" y2="559.60" stroke="#dedede" stroke-width="0.8"/>
<line x1="76.39" y1="304.80" x2="76.39" y2="559.60" stroke="#e8e8e8" stroke-width="0.7" stroke-dasharray="1,1.5"/>
<line x1="88.29" y1="304.80" x2="88.29" y2="559.60" stroke="#e8e8e8" stroke-width="0.7" stroke-dasharray="1,1.5"/>
<line x1="100.19" y1="304.80" x2="100.19" y2="559.60" stroke="#e8e8e8" stroke-width="0.7" stroke-dasharray="1,1.5"/>
<line x1="112.09" y1="304.80" x2="112.09" y2="559.60" stroke="#dedede" stroke-width="0.8"/>
<line x1="123.98" y1="304.80" x2="123.98" y2="559.60" stroke="#e8e8e8" stroke-width="0.7" stroke-dasharray="1,1.5"/>
<line x1="135.88" y1="304.80" x2="135.88" y2="559.60" stroke="#e8e8e8" stroke-width="0.7" stroke-dasharray="1,1.5"/>
<line x1="147.78" y1="304.80" x2="147.78" y2="559.60" stroke="#e8e8e8" stroke-width="0.7" stroke-dasharray="1,1.5"/>
<line x1="159.68" y1="304.80" x2="159.68" y2="559.60" stroke="#dedede" stroke-width="0.8"/>
<line x1="171.57" y1="304.80" x2="171.57" y2="559.60" stroke="#e8e8e8" stroke-width="0.7" stroke-dasharray="1,1.5"/>
<line x1="183.47" y1="304.80" x2="183.47" y2="559.60" stroke="#e8e8e8" stroke-width="0.7" stroke-dasharray="1,1.5"/>
<line x1="195.37" y1="304.80" x2="195.37" y2="559.60" stroke="#e8e8e8" stroke-width="0.7" stroke-dasharray="1,1.5"/>
<line x1="207.27" y1="304.80" x2="207.27" y2="559.60" stroke="#dedede" stroke-width="0.8"/>
<line x1="219.16" y1="304.80" x2="219.16" y2="559.60" stroke="#e8e8e8" stroke-width="0.7" stroke-dasharray="1,1.5"/>
<line x1="231.06" y1="304.80" x2="231.06" y2="559.60" stroke="#e8e8e8" stroke-width="0.7" stroke-dasharray="1,1.5"/>
<line x1="242.96" y1="304.80" x2="242.96" y2="559.60" stroke="#e8e8e8" stroke-width="0.7" stroke-dasharray="1,1.5"/>
<line x1="254.86" y1="304.80" x2="254.86" y2="559.60" stroke="#dedede" stroke-width="0.8"/>
<line x1="266.75" y1="304.80" x2="266.75" y2="559.60" stroke="#e8e8e8" stroke-width="0.7" stroke-dasharray="1,1.5"/>
<line x1="278.65" y1="304.80" x2="278.65" y2="559.60" stroke="#e8e8e8" stroke-width="0.7" stroke-dasharray="1,1.5"/>
<line x1="290.55" y1="304.80" x2="290.55" y2="559.60" stroke="#e8e8e8" stroke-width="0.7" stroke-dasharray="1,1.5"/>
<line x1="302.45" y1="304.80" x2="302.45" y2="559.60" stroke="#dedede" stroke-width="0.8"/>
<line x1="314.35" y1="304.80" x2="314.35" y2="559.60" stroke="#e8e8e8" stroke-width="0.7" stroke-dasharray="1,1.5"/>
<line x1="326.24" y1="304.80" x2="326.24" y2="559.60" stroke="#e8e8e8" stroke-width="0.7" stroke-dasharray="1,1.5"/>
<line x1="338.14" y1="304.80" x2="338.14" y2="559.60" stroke="#e8e8e8" stroke-width="0.7" stroke-dasharray="1,1.5"/>
<line x1="350.04" y1="304.80" x2="350.04" y2="559.60" stroke="#dedede" stroke-width="0.8"/>
<line x1="361.94" y1="304.80" x2="361.94" y2="559.60" stroke="#e8e8e8" stroke-width="0.7" stroke-dasharray="1,1.5"/>
<line x1="373.83" y1="304.80" x2="373.83" y2="559.60" stroke="#e8e8e8" stroke-width="0.7" stroke-dasharray="1,1.5"/>
<line x1="385.73" y1="304.80" x2="385.73" y2="559.60" stroke="#e8e8e8" stroke-width="0.7" stroke-dasharray="1,1.5"/>
<line x1="397.63" y1="304.80" x2="397.63" y2="559.60" stroke="#dedede" stroke-width="0.8"/>
<line x1="409.53" y1="304.80" x2="409.53" y2="559.60" stroke="#e8e8e8" stroke-width="0.7" stroke-dasharray="1,1.5"/>
<line x1="421.42" y1="304.80" x2="421.42" y2="559.60" stroke="#e8e8e8" stroke-width="0.7" stroke-dasharray="1,1.5"/>
<line x1="433.32" y1="304.80" x2="433.32" y2="559.60" stroke="#e8e8e8" stroke-width="0.7" stroke-dasharray="1,1.5"/>
<line x1="445.22" y1="304.80" x2="445.22" y2="559.60" stroke="#dedede" stroke-width="0.8"/>
<line x1="457.12" y1="304.80" x2="457.12" y2="559.60" stroke="#e8e8e8" stroke-width="0.7" stroke-dasharray="1,1.5"/>
<line x1="469.01" y1="304.80" x2="469.01" y2="559.60" stroke="#e8e8e8" stroke-width="0.7" stroke-dasharray="1,1.5"/>
<line x1="480.91" y1="304.80" x2="480.91" y2="559.60" stroke="#e8e8e8" stroke-width="0.7" stroke-dasharray="1,1.5"/>
<line x1="492.81" y1="304.80" x2="492.81" y2="559.60" stroke="#dedede" stroke-width="0.8"/>
<line x1="504.71" y1="304.80" x2="504.71" y2="559.60" stroke="#e8e8e8" stroke-width="0.7" stroke-dasharray="1,1.5"/>
<line x1="516.60" y1="304.80" x2="516.60" y2="559.60" stroke="#e8e8e8" stroke-width="0.7" stroke-dasharray="1,1.5"/>
<line x1="528.50" y1="304.80" x2="528.50" y2="559.60" stroke="#e8e8e8" stroke-width="0.7" stroke-dasharray="1,1.5"/>
<line x1="40.70" y1="553.58" x2="540.40" y2="553.58" stroke="#e8e8e8" stroke-width="0.7" stroke-dasharray="1,1.5"/>
<line x1="40.70" y1="547.55" x2="540.40" y2="547.55" stroke="#e8e8e8" stroke-width="0.7" stroke-dasharray="1,1.5"/>
<line x1="40.70" y1="541.53" x2="540.40" y2="541.53" stroke="#e8e8e8" stroke-width="0.7" stroke-dasharray="1,1.5"/>
<line x1="40.70" y1="535.51" x2="540.40" y2="535.51" stroke="#e8e8e8" stroke-width="0.7" stroke-dasharray="1,1.5"/>
<line x1="40.70" y1="529.48" x2="540.40" y2="529.48" stroke="#dedede" stroke-width="0.8"/>
<line x1="40.70" y1="523.46" x2="540.40" y2="523.46" stroke="#e8e8e8" stroke-width="0.7" stroke-dasharray="1,1.5"/>
<line x1="40.70" y1="517.43" x2="540.40" y2="517.43" stroke="#e8e8e8" stroke-width="0.7" stroke-dasharray="1,1.5"/>
<line x1="40.70" y1="511.41" x2="540.40" y2="511.41" stroke="#e8e8e8" stroke-width="0.7" stroke-dasharray="1,1.5"/>
<line x1="40.70" y1="505.39" x2="540.40" y2="505.39" stroke="#e8e8e8" stroke-width="0.7" stroke-dasharray="1,1.5"/>
<line x1="40.70" y1="499.36" x2="540.40" y2="499.36" stroke="#dedede" stroke-width="0.8"/>
<line x1="40.70" y1="493.34" x2="540.40" y2="493.34" stroke="#e8e8e8" stroke-width="0.7" stroke-dasharray="1,1.5"/>
<line x1="40.70" y1="487.32" x2="540.40" y2="487.32" stroke="#e8e8e8" stroke-width="0.7" stroke-dasharray="1,1.5"/>
<line x1="40.70" y1="481.29" x2="540.40" y2="481.29" stroke="#e8e8e8" stroke-width="0.7" stroke-dasharray="1,1.5"/>
<line x1="40.70" y1="475.27" x2="540.40" y2="475.27" stroke="#e8e8e8" stroke-width="0.7" stroke-dasharray="1,1.5"/>
<line x1="40.70" y1="469.25" x2="540.40" y2="469.25" stroke="#dedede" stroke-width="0.8"/>
<line x1="40.70" y1="463.22" x2="540.40" y2="463.22" stroke="#e8e8e8" stroke-width="0.7" stroke-dasharray="1,1.5"/>
<line x1="40.70" y1="457.20" x2="540.40" y2="457.20" stroke="#e8e8e8" stroke-width="0.7" stroke-dasharray="1,1.5"/>
<line x1="40.70" y1="451.17" x2="540.40" y2="451.17" stroke="#e8e8e8" stroke-width="0.7" stroke-dasharray="1,1.5"/>
<line x1="40.70" y1="445.15" x2="540.40" y2="445.15" stroke="#e8e8e8" stroke-width="0.7" stroke-dasharray="1,1.5"/>
<line x1="40.70" y1="439.13" x2="540.40" y2="439.13" stroke="#dedede" stroke-width="0.8"/>
<line x1="40.70" y1="433.10" x2="540.40" y2="433.10" stroke="#e8e8e8" stroke-width="0.7" stroke-dasharray="1,1.5"/>
<line x1="40.70" y1="427.08" x2="540.40" y2="427.08" stroke="#e8e8e8" stroke-width="0.7" stroke-dasharray="1,1.5"/>
<line x1="40.70" y1="421.06" x2="540.40" y2="421.06" stroke="#e8e8e8" stroke-width="0.7" stroke-dasharray="1,1.5"/>
<line x1="40.70" y1="415.03" x2="540.40" y2="415.03" stroke="#e8e8e8" stroke-width="0.7" stroke-dasharray="1,1.5"/>
<line x1="40.70" y1="409.01" x2="540.40" y2="409.01" stroke="#dedede" stroke-width="0.8"/>
<line x1="40.70" y1="402.99" x2="540.40" y2="402.99" stroke="#e8e8e8" stroke-width="0.7" stroke-dasharray="1,1.5"/>
<line x1="40.70" y1="396.96" x2="540.40" y2="396.96" stroke="#e8e8e8" stroke-width="0.7" stroke-dasharray="1,1.5"/>
<line x1="40.70" y1="390.94" x2="540.40" y2="390.94" stroke="#e8e8e8" stroke-width="0.7" stroke-dasharray="1,1.5"/>
<line x1="40.70" y1="384.91" x2="540.40" y2="384.91" stroke="#e8e8e8" stroke-width="0.7" stroke-dasharray="1,1.5"/>
<line x1="40.70" y1="378.89" x2="540.40" y2="378.89" stroke="#dedede" stroke-width="0.8"/>
<line x1="40.70" y1="372.87" x2="540.40" y2="372.87" stroke="#e8e8e8" stroke-width="0.7" stroke-dasharray="1,1.5"/>
<line x1="40.70" y1="366.84" x2="540.40" y2="366.84" stroke="#e8e8e8" stroke-width="0.7" stroke-dasharray="1,1.5"/>
<line x1="40.70" y1="360.82" x2="540.40" y2="360.82" stroke="#e8e8e8" stroke-width="0.7" stroke-dasharray="1,1.5"/>
<line x1="40.70" y1="354.80" x2="540.40" y2="354.80" stroke="#e8e8e8" stroke-width="0.7" stroke-dasharray="1,1.5"/>
<line x1="40.70" y1="348.77" x2="540.40" y2="348.77" stroke="#dedede" stroke-width="0.8"/>
<line x1="40.70" y1="342.75" x2="540.40" y2="342.75" stroke="#e8e8e8" stroke-width="0.7" stroke-dasharray="1,1.5"/>
<line x1="40.70" y1="336.73" x2="540.40" y2="336.73" stroke="#e8e8e8" stroke-width="0.7" stroke-dasharray="1,1.5"/>
<line x1="40.70" y1="330.70" x2="540.40" y2="330.70" stroke="#e8e8e8" stroke-width="0.7" stroke-dasharray="1,1.5"/>
<line x1="40.70" y1="324.68" x2="540.40" y2="324.68" stroke="#e8e8e8" stroke-width="0.7" stroke-dasharray="1,1.5"/>
<line x1="40.70" y1="318.65" x2="540.40" y2="318.65" stroke="#dedede" stroke-width="0.8"/>
<line x1="40.70" y1="312.63" x2="540.40" y2="312.63" stroke="#e8e8e8" stroke-width="0.7" stroke-dasharray="1,1.5"/>
<line x1="40.70" y1="306.61" x2="540.40" y2="306.61" stroke="#e8e8e8" stroke-width="0.7" stroke-dasharray="1,1.5"/>
<rect x="58.50" y="557.91" width="12.00" height="1.69" fill="#0a6fc6" stroke="#1d2a38" stroke-width="0.7"/>
<rect x="82.29" y="304.80" width="12.00" height="254.80" fill="#0a6fc6" stroke="#1d2a38" stroke-width="0.7"/>
<rect x="106.09" y="539.48" width="12.00" height="20.12" fill="#0a6fc6" stroke="#1d2a38" stroke-width="0.7"/>
<rect x="129.88" y="557.19" width="12.00" height="2.41" fill="#0a6fc6" stroke="#1d2a38" stroke-width="0.7"/>
<rect x="153.68" y="552.37" width="12.00" height="7.23" fill="#0a6fc6" stroke="#1d2a38" stroke-width="0.7"/>
<rect x="177.47" y="357.02" width="12.00" height="202.58" fill="#0a6fc6" stroke="#1d2a38" stroke-width="0.7"/>
<rect x="201.27" y="558.40" width="12.00" height="1.20" fill="#0a6fc6" stroke="#1d2a38" stroke-width="0.7"/>
<rect x="225.06" y="327.57" width="12.00" height="232.03" fill="#0a6fc6" stroke="#1d2a38" stroke-width="0.7"/>
<rect x="248.86" y="553.70" width="12.00" height="5.90" fill="#0a6fc6" stroke="#1d2a38" stroke-width="0.7"/>
<rect x="272.65" y="556.29" width="12.00" height="3.31" fill="#0a6fc6" stroke="#1d2a38" stroke-width="0.7"/>
<rect x="296.45" y="553.21" width="12.00" height="6.39" fill="#0a6fc6" stroke="#1d2a38" stroke-width="0.7"/>
<rect x="320.24" y="336.12" width="12.00" height="223.48" fill="#0a6fc6" stroke="#1d2a38" stroke-width="0.7"/>
<rect x="344.04" y="555.08" width="12.00" height="4.52" fill="#0a6fc6" stroke="#1d2a38" stroke-width="0.7"/>
<rect x="367.83" y="350.76" width="12.00" height="208.84" fill="#0a6fc6" stroke="#1d2a38" stroke-width="0.7"/>
<rect x="391.63" y="549.36" width="12.00" height="10.24" fill="#0a6fc6" stroke="#1d2a38" stroke-width="0.7"/>
<rect x="415.42" y="557.91" width="12.00" height="1.69" fill="#0a6fc6" stroke="#1d2a38" stroke-width="0.7"/>
<rect x="439.22" y="554.48" width="12.00" height="5.12" fill="#0a6fc6" stroke="#1d2a38" stroke-width="0.7"/>
<rect x="463.01" y="397.56" width="12.00" height="162.04" fill="#0a6fc6" stroke="#1d2a38" stroke-width="0.7"/>
<rect x="486.81" y="554.48" width="12.00" height="5.12" fill="#0a6fc6" stroke="#1d2a38" stroke-width="0.7"/>
<rect x="510.60" y="539.12" width="12.00" height="20.48" fill="#0a6fc6" stroke="#1d2a38" stroke-width="0.7"/>
<rect x="40.70" y="304.80" width="499.70" height="254.80" fill="none" stroke="#6a6a6a" stroke-width="0.9"/>
<line x1="64.50" y1="559.60" x2="64.50" y2="555.60" stroke="#333" stroke-width="0.8"/>
<line x1="64.50" y1="304.80" x2="64.50" y2="308.80" stroke="#333" stroke-width="0.8"/>
<text transform="translate(64.20,575.50)" text-anchor="middle" font-family='"Liberation Sans", Arial, sans-serif' font-size="11.5" fill="#262626">0</text>
<line x1="112.09" y1="559.60" x2="112.09" y2="555.60" stroke="#333" stroke-width="0.8"/>
<line x1="112.09" y1="304.80" x2="112.09" y2="308.80" stroke="#333" stroke-width="0.8"/>
<text transform="translate(111.79,575.50)" text-anchor="middle" font-family='"Liberation Sans", Arial, sans-serif' font-size="11.5" fill="#262626">2</text>
<line x1="159.68" y1="559.60" x2="159.68" y2="555.60" stroke="#333" stroke-width="0.8"/>
<line x1="159.68" y1="304.80" x2="159.68" y2="308.80" stroke="#333" stroke-width="0.8"/>
<text transform="translate(159.38,575.50)" text-anchor="middle" font-family='"Liberation Sans", Arial, sans-serif' font-size="11.5" fill="#262626">4</text>
<line x1="207.27" y1="559.60" x2="207.27" y2="555.60" stroke="#333" stroke-width="0.8"/>
<line x1="207.27" y1="304.80" x2="207.27" y2="308.80" stroke="#333" stroke-width="0.8"/>
<text transform="translate(206.97,575.50)" text-anchor="middle" font-family='"Liberation Sans", Arial, sans-serif' font-size="11.5" fill="#262626">6</text>
<line x1="254.86" y1="559.60" x2="254.86" y2="555.60" stroke="#333" stroke-width="0.8"/>
<line x1="254.86" y1="304.80" x2="254.86" y2="308.80" stroke="#333" stroke-width="0.8"/>
<text transform="translate(254.56,575.50)" text-anchor="middle" font-family='"Liberation Sans", Arial, sans-serif' font-size="11.5" fill="#262626">8</text>
<line x1="302.45" y1="559.60" x2="302.45" y2="555.60" stroke="#333" stroke-width="0.8"/>
<line x1="302.45" y1="304.80" x2="302.45" y2="308.80" stroke="#333" stroke-width="0.8"/>
<text transform="translate(302.15,575.50)" text-anchor="middle" font-family='"Liberation Sans", Arial, sans-serif' font-size="11.5" fill="#262626">10</text>
<line x1="350.04" y1="559.60" x2="350.04" y2="555.60" stroke="#333" stroke-width="0.8"/>
<line x1="350.04" y1="304.80" x2="350.04" y2="308.80" stroke="#333" stroke-width="0.8"/>
<text transform="translate(349.74,575.50)" text-anchor="middle" font-family='"Liberation Sans", Arial, sans-serif' font-size="11.5" fill="#262626">12</text>
<line x1="397.63" y1="559.60" x2="397.63" y2="555.60" stroke="#333" stroke-width="0.8"/>
<line x1="397.63" y1="304.80" x2="397.63" y2="308.80" stroke="#333" stroke-width="0.8"/>
<text transform="translate(397.33,575.50)" text-anchor="middle" font-family='"Liberation Sans", Arial, sans-serif' font-size="11.5" fill="#262626">14</text>
<line x1="445.22" y1="559.60" x2="445.22" y2="555.60" stroke="#333" stroke-width="0.8"/>
<line x1="445.22" y1="304.80" x2="445.22" y2="308.80" stroke="#333" stroke-width="0.8"/>
<text transform="translate(444.92,575.50)" text-anchor="middle" font-family='"Liberation Sans", Arial, sans-serif' font-size="11.5" fill="#262626">16</text>
<line x1="492.81" y1="559.60" x2="492.81" y2="555.60" stroke="#333" stroke-width="0.8"/>
<line x1="492.81" y1="304.80" x2="492.81" y2="308.80" stroke="#333" stroke-width="0.8"/>
<text transform="translate(492.51,575.50)" text-anchor="middle" font-family='"Liberation Sans", Arial, sans-serif' font-size="11.5" fill="#262626">18</text>
<line x1="540.40" y1="559.60" x2="540.40" y2="555.60" stroke="#333" stroke-width="0.8"/>
<line x1="540.40" y1="304.80" x2="540.40" y2="308.80" stroke="#333" stroke-width="0.8"/>
<text transform="translate(540.10,575.50)" text-anchor="middle" font-family='"Liberation Sans", Arial, sans-serif' font-size="11.5" fill="#262626">20</text>
<line x1="40.70" y1="559.60" x2="44.70" y2="559.60" stroke="#333" stroke-width="0.8"/>
<line x1="540.40" y1="559.60" x2="536.40" y2="559.60" stroke="#333" stroke-width="0.8"/>
<text transform="translate(35.70,564.00)" text-anchor="end" font-family='"Liberation Sans", Arial, sans-serif' font-size="11.5" fill="#262626">0</text>
<line x1="40.70" y1="529.48" x2="44.70" y2="529.48" stroke="#333" stroke-width="0.8"/>
<line x1="540.40" y1="529.48" x2="536.40" y2="529.48" stroke="#333" stroke-width="0.8"/>
<text transform="translate(35.70,533.88)" text-anchor="end" font-family='"Liberation Sans", Arial, sans-serif' font-size="11.5" fill="#262626">0.5</text>
<line x1="40.70" y1="499.36" x2="44.70" y2="499.36" stroke="#333" stroke-width="0.8"/>
<line x1="540.40" y1="499.36" x2="536.40" y2="499.36" stroke="#333" stroke-width="0.8"/>
<text transform="translate(35.70,503.76)" text-anchor="end" font-family='"Liberation Sans", Arial, sans-serif' font-size="11.5" fill="#262626">1</text>
<line x1="40.70" y1="469.25" x2="44.70" y2="469.25" stroke="#333" stroke-width="0.8"/>
<line x1="540.40" y1="469.25" x2="536.40" y2="469.25" stroke="#333" stroke-width="0.8"/>
<text transform="translate(35.70,473.65)" text-anchor="end" font-family='"Liberation Sans", Arial, sans-serif' font-size="11.5" fill="#262626">1.5</text>
<line x1="40.70" y1="439.13" x2="44.70" y2="439.13" stroke="#333" stroke-width="0.8"/>
<line x1="540.40" y1="439.13" x2="536.40" y2="439.13" stroke="#333" stroke-width="0.8"/>
<text transform="translate(35.70,443.53)" text-anchor="end" font-family='"Liberation Sans", Arial, sans-serif' font-size="11.5" fill="#262626">2</text>
<line x1="40.70" y1="409.01" x2="44.70" y2="409.01" stroke="#333" stroke-width="0.8"/>
<line x1="540.40" y1="409.01" x2="536.40" y2="409.01" stroke="#333" stroke-width="0.8"/>
<text transform="translate(35.70,413.41)" text-anchor="end" font-family='"Liberation Sans", Arial, sans-serif' font-size="11.5" fill="#262626">2.5</text>
<line x1="40.70" y1="378.89" x2="44.70" y2="378.89" stroke="#333" stroke-width="0.8"/>
<line x1="540.40" y1="378.89" x2="536.40" y2="378.89" stroke="#333" stroke-width="0.8"/>
<text transform="translate(35.70,383.29)" text-anchor="end" font-family='"Liberation Sans", Arial, sans-serif' font-size="11.5" fill="#262626">3</text>
<line x1="40.70" y1="348.77" x2="44.70" y2="348.77" stroke="#333" stroke-width="0.8"/>
<line x1="540.40" y1="348.77" x2="536.40" y2="348.77" stroke="#333" stroke-width="0.8"/>
<text transform="translate(35.70,353.17)" text-anchor="end" font-family='"Liberation Sans", Arial, sans-serif' font-size="11.5" fill="#262626">3.5</text>
<line x1="40.70" y1="318.65" x2="44.70" y2="318.65" stroke="#333" stroke-width="0.8"/>
<line x1="540.40" y1="318.65" x2="536.40" y2="318.65" stroke="#333" stroke-width="0.8"/>
<text transform="translate(35.70,323.05)" text-anchor="end" font-family='"Liberation Sans", Arial, sans-serif' font-size="11.5" fill="#262626">4</text>
<text transform="translate(290.80,299.70)" text-anchor="middle" font-family='"Liberation Sans", Arial, sans-serif' font-size="12.45" font-weight="bold" fill="#111">Fundamental (65Hz) = 14.68 , THD= 7.77%</text>
<text transform="translate(290.50,592.00)" text-anchor="middle" font-family='"Liberation Sans", Arial, sans-serif' font-size="12.2" fill="#262626">Harmonic order</text>
<text transform="translate(14.80,433.30) rotate(-90)" text-anchor="middle" font-family='"Liberation Sans", Arial, sans-serif' font-size="12.2" fill="#262626">Mag (% of Fundamental)</text>
<text transform="translate(275,615)" text-anchor="middle" font-family='"Liberation Serif", "Times New Roman", serif' font-size="15" fill="#111">(<tspan font-weight="bold">b</tspan>)</text>
</svg></body></html>
